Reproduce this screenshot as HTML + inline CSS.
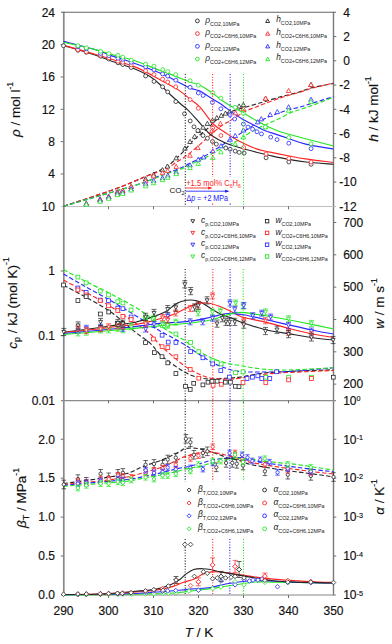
<!DOCTYPE html>
<html><head><meta charset="utf-8"><style>
html,body{margin:0;padding:0;background:#fff;}
svg{display:block;}
text{font-family:"Liberation Sans",sans-serif;}
.tk text,text.tk{stroke:#111;stroke-width:0.16;}
</style></head><body>
<svg width="392" height="644" viewBox="0 0 392 644">
<rect width="392" height="644" fill="#fff"/>
<line x1="63.80" y1="11.70" x2="63.80" y2="595.50" stroke="#888" stroke-width="1.7" />
<line x1="333.50" y1="11.70" x2="333.50" y2="595.50" stroke="#7a7a7a" stroke-width="1.4" />
<line x1="61.00" y1="12.30" x2="336.00" y2="12.30" stroke="#666" stroke-width="1.1" />
<line x1="61.00" y1="206.50" x2="336.00" y2="206.50" stroke="#b8b8b8" stroke-width="0.9" />
<line x1="61.00" y1="400.70" x2="336.00" y2="400.70" stroke="#8c8c8c" stroke-width="1.2" />
<line x1="61.00" y1="595.00" x2="336.00" y2="595.00" stroke="#888" stroke-width="1.1" />
<line x1="108.50" y1="206.30" x2="108.50" y2="209.30" stroke="#707070" stroke-width="1.0" />
<line x1="108.50" y1="400.30" x2="108.50" y2="403.30" stroke="#707070" stroke-width="1.0" />
<line x1="108.50" y1="595.00" x2="108.50" y2="598.00" stroke="#707070" stroke-width="1.0" />
<line x1="153.50" y1="206.30" x2="153.50" y2="209.30" stroke="#707070" stroke-width="1.0" />
<line x1="153.50" y1="400.30" x2="153.50" y2="403.30" stroke="#707070" stroke-width="1.0" />
<line x1="153.50" y1="595.00" x2="153.50" y2="598.00" stroke="#707070" stroke-width="1.0" />
<line x1="198.50" y1="206.30" x2="198.50" y2="209.30" stroke="#707070" stroke-width="1.0" />
<line x1="198.50" y1="400.30" x2="198.50" y2="403.30" stroke="#707070" stroke-width="1.0" />
<line x1="198.50" y1="595.00" x2="198.50" y2="598.00" stroke="#707070" stroke-width="1.0" />
<line x1="243.50" y1="206.30" x2="243.50" y2="209.30" stroke="#707070" stroke-width="1.0" />
<line x1="243.50" y1="400.30" x2="243.50" y2="403.30" stroke="#707070" stroke-width="1.0" />
<line x1="243.50" y1="595.00" x2="243.50" y2="598.00" stroke="#707070" stroke-width="1.0" />
<line x1="288.50" y1="206.30" x2="288.50" y2="209.30" stroke="#707070" stroke-width="1.0" />
<line x1="288.50" y1="400.30" x2="288.50" y2="403.30" stroke="#707070" stroke-width="1.0" />
<line x1="288.50" y1="595.00" x2="288.50" y2="598.00" stroke="#707070" stroke-width="1.0" />
<line x1="60.70" y1="173.97" x2="63.50" y2="173.97" stroke="#707070" stroke-width="1.0" />
<line x1="60.70" y1="141.63" x2="63.50" y2="141.63" stroke="#707070" stroke-width="1.0" />
<line x1="60.70" y1="109.30" x2="63.50" y2="109.30" stroke="#707070" stroke-width="1.0" />
<line x1="60.70" y1="76.97" x2="63.50" y2="76.97" stroke="#707070" stroke-width="1.0" />
<line x1="60.70" y1="44.63" x2="63.50" y2="44.63" stroke="#707070" stroke-width="1.0" />
<line x1="333.50" y1="182.05" x2="336.30" y2="182.05" stroke="#707070" stroke-width="1.0" />
<line x1="333.50" y1="157.80" x2="336.30" y2="157.80" stroke="#707070" stroke-width="1.0" />
<line x1="333.50" y1="133.55" x2="336.30" y2="133.55" stroke="#707070" stroke-width="1.0" />
<line x1="333.50" y1="109.30" x2="336.30" y2="109.30" stroke="#707070" stroke-width="1.0" />
<line x1="333.50" y1="85.05" x2="336.30" y2="85.05" stroke="#707070" stroke-width="1.0" />
<line x1="333.50" y1="60.80" x2="336.30" y2="60.80" stroke="#707070" stroke-width="1.0" />
<line x1="333.50" y1="36.55" x2="336.30" y2="36.55" stroke="#707070" stroke-width="1.0" />
<line x1="60.70" y1="335.63" x2="63.50" y2="335.63" stroke="#707070" stroke-width="1.0" />
<line x1="60.70" y1="270.97" x2="63.50" y2="270.97" stroke="#707070" stroke-width="1.0" />
<line x1="333.50" y1="384.13" x2="336.30" y2="384.13" stroke="#707070" stroke-width="1.0" />
<line x1="333.50" y1="351.80" x2="336.30" y2="351.80" stroke="#707070" stroke-width="1.0" />
<line x1="333.50" y1="319.47" x2="336.30" y2="319.47" stroke="#707070" stroke-width="1.0" />
<line x1="333.50" y1="287.13" x2="336.30" y2="287.13" stroke="#707070" stroke-width="1.0" />
<line x1="333.50" y1="254.80" x2="336.30" y2="254.80" stroke="#707070" stroke-width="1.0" />
<line x1="333.50" y1="222.47" x2="336.30" y2="222.47" stroke="#707070" stroke-width="1.0" />
<line x1="60.70" y1="556.06" x2="63.50" y2="556.06" stroke="#707070" stroke-width="1.0" />
<line x1="60.70" y1="517.12" x2="63.50" y2="517.12" stroke="#707070" stroke-width="1.0" />
<line x1="60.70" y1="478.18" x2="63.50" y2="478.18" stroke="#707070" stroke-width="1.0" />
<line x1="60.70" y1="439.24" x2="63.50" y2="439.24" stroke="#707070" stroke-width="1.0" />
<line x1="333.50" y1="439.24" x2="336.30" y2="439.24" stroke="#707070" stroke-width="1.0" />
<line x1="333.50" y1="478.18" x2="336.30" y2="478.18" stroke="#707070" stroke-width="1.0" />
<line x1="333.50" y1="517.12" x2="336.30" y2="517.12" stroke="#707070" stroke-width="1.0" />
<line x1="333.50" y1="556.06" x2="336.30" y2="556.06" stroke="#707070" stroke-width="1.0" />
<text class="tk" x="55.00" y="16.60" font-size="12" text-anchor="end" fill="#111" >24</text>
<text class="tk" x="55.00" y="178.27" font-size="12" text-anchor="end" fill="#111" >4</text>
<text class="tk" x="55.00" y="145.93" font-size="12" text-anchor="end" fill="#111" >8</text>
<text class="tk" x="55.00" y="113.60" font-size="12" text-anchor="end" fill="#111" >12</text>
<text class="tk" x="55.00" y="81.27" font-size="12" text-anchor="end" fill="#111" >16</text>
<text class="tk" x="55.00" y="48.93" font-size="12" text-anchor="end" fill="#111" >20</text>
<text class="tk" x="55.00" y="210.60" font-size="12" text-anchor="end" fill="#111" >10</text>
<text class="tk" x="55.00" y="275.27" font-size="12" text-anchor="end" fill="#111" >1</text>
<text class="tk" x="55.00" y="339.93" font-size="12" text-anchor="end" fill="#111" >0.1</text>
<text class="tk" x="55.00" y="404.60" font-size="12" text-anchor="end" fill="#111" >0.01</text>
<text class="tk" x="55.00" y="443.54" font-size="12" text-anchor="end" fill="#111" >2.0</text>
<text class="tk" x="55.00" y="482.48" font-size="12" text-anchor="end" fill="#111" >1.5</text>
<text class="tk" x="55.00" y="521.42" font-size="12" text-anchor="end" fill="#111" >1.0</text>
<text class="tk" x="55.00" y="560.36" font-size="12" text-anchor="end" fill="#111" >0.5</text>
<text class="tk" x="55.00" y="599.30" font-size="12" text-anchor="end" fill="#111" >0.0</text>
<text class="tk" x="343.20" y="16.60" font-size="12" text-anchor="start" fill="#111" >4</text>
<text class="tk" x="343.20" y="40.85" font-size="12" text-anchor="start" fill="#111" >2</text>
<text class="tk" x="343.20" y="65.10" font-size="12" text-anchor="start" fill="#111" >0</text>
<text class="tk" x="339.30" y="89.35" font-size="12" text-anchor="start" fill="#111" >-2</text>
<text class="tk" x="339.30" y="113.60" font-size="12" text-anchor="start" fill="#111" >-4</text>
<text class="tk" x="339.30" y="137.85" font-size="12" text-anchor="start" fill="#111" >-6</text>
<text class="tk" x="339.30" y="162.10" font-size="12" text-anchor="start" fill="#111" >-8</text>
<text class="tk" x="339.30" y="186.35" font-size="12" text-anchor="start" fill="#111" >-10</text>
<text class="tk" x="339.30" y="210.60" font-size="12" text-anchor="start" fill="#111" >-12</text>
<text class="tk" x="343.20" y="226.77" font-size="12" text-anchor="start" fill="#111" >700</text>
<text class="tk" x="343.20" y="259.10" font-size="12" text-anchor="start" fill="#111" >600</text>
<text class="tk" x="343.20" y="291.43" font-size="12" text-anchor="start" fill="#111" >500</text>
<text class="tk" x="343.20" y="323.77" font-size="12" text-anchor="start" fill="#111" >400</text>
<text class="tk" x="343.20" y="356.10" font-size="12" text-anchor="start" fill="#111" >300</text>
<text class="tk" x="343.20" y="388.43" font-size="12" text-anchor="start" fill="#111" >200</text>
<text class="tk" x="343.2" y="404.60" font-size="12" fill="#111">10<tspan font-size="7.2" dy="-3.8">0</tspan></text>
<text class="tk" x="343.2" y="443.54" font-size="12" fill="#111">10<tspan font-size="7.2" dy="-3.8">-1</tspan></text>
<text class="tk" x="343.2" y="482.48" font-size="12" fill="#111">10<tspan font-size="7.2" dy="-3.8">-2</tspan></text>
<text class="tk" x="343.2" y="521.42" font-size="12" fill="#111">10<tspan font-size="7.2" dy="-3.8">-3</tspan></text>
<text class="tk" x="343.2" y="560.36" font-size="12" fill="#111">10<tspan font-size="7.2" dy="-3.8">-4</tspan></text>
<text class="tk" x="343.2" y="599.30" font-size="12" fill="#111">10<tspan font-size="7.2" dy="-3.8">-5</tspan></text>
<text class="tk" x="63.50" y="615.00" font-size="12" text-anchor="middle" fill="#111" >290</text>
<text class="tk" x="108.50" y="615.00" font-size="12" text-anchor="middle" fill="#111" >300</text>
<text class="tk" x="153.50" y="615.00" font-size="12" text-anchor="middle" fill="#111" >310</text>
<text class="tk" x="198.50" y="615.00" font-size="12" text-anchor="middle" fill="#111" >320</text>
<text class="tk" x="243.50" y="615.00" font-size="12" text-anchor="middle" fill="#111" >330</text>
<text class="tk" x="288.50" y="615.00" font-size="12" text-anchor="middle" fill="#111" >340</text>
<text class="tk" x="333.50" y="615.00" font-size="12" text-anchor="middle" fill="#111" >350</text>
<text class="tk" x="199" y="637.3" font-size="13.5" text-anchor="middle" fill="#111"><tspan font-style="italic">T</tspan> / K</text>
<text class="tk" transform="translate(20.4,109.5) rotate(-90)" font-size="13.5" text-anchor="middle" fill="#111"><tspan font-style="italic">ρ</tspan> / mol l<tspan font-size="8.5" dy="-7.5">-1</tspan></text>
<text class="tk" transform="translate(16.5,303) rotate(-90)" font-size="13.5" text-anchor="middle" fill="#111"><tspan font-style="italic">c</tspan><tspan font-size="9" dy="3">p</tspan><tspan dy="-3"> / kJ (mol K)</tspan><tspan font-size="8.5" dy="-7.5">-1</tspan></text>
<text class="tk" transform="translate(26.2,498) rotate(-90)" font-size="13.5" text-anchor="middle" fill="#111"><tspan font-style="italic">β</tspan><tspan font-size="9" dy="3">T</tspan><tspan dy="-3"> / MPa</tspan><tspan font-size="8.5" dy="-7.5">-1</tspan></text>
<text class="tk" transform="translate(378.4,109.2) rotate(-90)" font-size="13.5" text-anchor="middle" fill="#111"><tspan font-style="italic">h</tspan> / kJ mol<tspan font-size="8.5" dy="-7.5">-1</tspan></text>
<text class="tk" transform="translate(384,303.5) rotate(-90)" font-size="13.5" text-anchor="middle" fill="#111"><tspan font-style="italic">w</tspan> / m s<tspan font-size="8.5" dy="-7.5">-1</tspan></text>
<text class="tk" transform="translate(384.2,497) rotate(-90)" font-size="13.5" text-anchor="middle" fill="#111"><tspan font-style="italic">α</tspan> / K<tspan font-size="8.5" dy="-7.5">-1</tspan></text>
<path d="M63.50,206.30 C72.08,203.42 101.42,193.92 115.00,189.00 C128.58,184.08 136.67,180.35 145.00,176.80 C153.33,173.25 159.97,170.58 165.00,167.70 C170.03,164.82 171.80,162.57 175.20,159.50 C178.60,156.43 182.47,152.42 185.40,149.30 C188.33,146.18 190.30,143.28 192.80,140.80 C195.30,138.32 197.85,136.52 200.40,134.40 C202.95,132.28 205.67,130.33 208.10,128.10 C210.53,125.87 212.18,123.35 215.00,121.00 C217.82,118.65 221.63,115.78 225.00,114.00 C228.37,112.22 231.80,111.43 235.20,110.30 C238.60,109.17 242.00,108.22 245.40,107.20 C248.80,106.18 252.33,105.15 255.60,104.20 C258.87,103.25 260.87,102.73 265.00,101.50 C269.13,100.27 276.13,98.00 280.40,96.80 C284.67,95.60 287.33,95.15 290.60,94.30 C293.87,93.45 296.27,92.83 300.00,91.70 C303.73,90.57 307.42,88.87 313.00,87.50 C318.58,86.13 330.08,84.17 333.50,83.50" fill="none" stroke="#262626" stroke-width="1.15" stroke-dasharray="4.5,2.3"/>
<path d="M63.50,206.30 C72.08,203.42 101.42,193.92 115.00,189.00 C128.58,184.08 136.67,180.10 145.00,176.80 C153.33,173.50 159.97,171.48 165.00,169.20 C170.03,166.92 171.80,165.23 175.20,163.10 C178.60,160.97 182.00,158.87 185.40,156.40 C188.80,153.93 192.25,151.12 195.60,148.30 C198.95,145.48 202.57,142.13 205.50,139.50 C208.43,136.87 210.45,134.83 213.20,132.50 C215.95,130.17 219.20,127.42 222.00,125.50 C224.80,123.58 227.80,122.33 230.00,121.00 C232.20,119.67 232.63,119.12 235.20,117.50 C237.77,115.88 242.00,113.02 245.40,111.30 C248.80,109.58 252.33,108.50 255.60,107.20 C258.87,105.90 260.87,105.05 265.00,103.50 C269.13,101.95 276.13,99.35 280.40,97.90 C284.67,96.45 287.33,95.75 290.60,94.80 C293.87,93.85 296.27,93.33 300.00,92.20 C303.73,91.07 307.42,89.53 313.00,88.00 C318.58,86.47 330.08,83.83 333.50,83.00" fill="none" stroke="#ff2424" stroke-width="1.15" stroke-dasharray="4.5,2.3"/>
<path d="M63.50,206.30 C72.08,203.80 101.42,195.33 115.00,191.30 C128.58,187.27 136.67,185.10 145.00,182.10 C153.33,179.10 159.97,175.28 165.00,173.30 C170.03,171.32 171.80,171.48 175.20,170.20 C178.60,168.92 182.00,167.22 185.40,165.60 C188.80,163.98 192.33,162.12 195.60,160.50 C198.87,158.88 202.57,157.22 205.00,155.90 C207.43,154.58 207.63,154.18 210.20,152.60 C212.77,151.02 217.00,148.62 220.40,146.40 C223.80,144.18 227.67,141.20 230.60,139.30 C233.53,137.40 234.63,137.05 238.00,135.00 C241.37,132.95 247.13,129.33 250.80,127.00 C254.47,124.67 256.77,122.80 260.00,121.00 C263.23,119.20 266.80,117.62 270.20,116.20 C273.60,114.78 277.00,113.65 280.40,112.50 C283.80,111.35 287.33,110.22 290.60,109.30 C293.87,108.38 296.27,108.05 300.00,107.00 C303.73,105.95 307.42,104.73 313.00,103.00 C318.58,101.27 330.08,97.67 333.50,96.60" fill="none" stroke="#2828ff" stroke-width="1.15" stroke-dasharray="4.5,2.3"/>
<path d="M63.50,206.30 C72.08,203.80 101.42,195.33 115.00,191.30 C128.58,187.27 136.67,184.93 145.00,182.10 C153.33,179.27 159.97,176.12 165.00,174.30 C170.03,172.48 171.80,172.40 175.20,171.20 C178.60,170.00 182.00,168.63 185.40,167.10 C188.80,165.57 192.33,163.52 195.60,162.00 C198.87,160.48 202.57,159.23 205.00,158.00 C207.43,156.77 207.63,156.10 210.20,154.60 C212.77,153.10 217.00,150.78 220.40,149.00 C223.80,147.22 227.33,145.52 230.60,143.90 C233.87,142.28 236.63,141.27 240.00,139.30 C243.37,137.33 246.88,134.37 250.80,132.10 C254.72,129.83 259.25,127.72 263.50,125.70 C267.75,123.68 271.78,122.17 276.30,120.00 C280.82,117.83 286.65,114.43 290.60,112.70 C294.55,110.97 296.27,110.87 300.00,109.60 C303.73,108.33 307.42,107.15 313.00,105.10 C318.58,103.05 330.08,98.60 333.50,97.30" fill="none" stroke="#22e622" stroke-width="1.15" stroke-dasharray="4.5,2.3"/>
<path d="M63.50,45.50 C68.75,47.08 86.42,52.20 95.00,55.00 C103.58,57.80 108.33,59.97 115.00,62.30 C121.67,64.63 129.17,66.63 135.00,69.00 C140.83,71.37 145.83,73.92 150.00,76.50 C154.17,79.08 156.63,81.50 160.00,84.50 C163.37,87.50 166.80,91.30 170.20,94.50 C173.60,97.70 177.48,101.15 180.40,103.70 C183.32,106.25 185.22,107.43 187.70,109.80 C190.18,112.17 192.75,115.07 195.30,117.90 C197.85,120.73 200.48,124.03 203.00,126.80 C205.52,129.57 207.85,132.38 210.40,134.50 C212.95,136.62 215.37,137.92 218.30,139.50 C221.23,141.08 224.38,142.62 228.00,144.00 C231.62,145.38 235.27,146.43 240.00,147.80 C244.73,149.17 251.40,150.92 256.40,152.20 C261.40,153.48 264.75,154.32 270.00,155.50 C275.25,156.68 281.95,158.22 287.90,159.30 C293.85,160.38 298.10,161.17 305.70,162.00 C313.30,162.83 328.87,163.92 333.50,164.30" fill="none" stroke="#262626" stroke-width="1.15"/>
<path d="M63.50,45.20 C68.75,46.70 83.08,50.58 95.00,54.20 C106.92,57.82 124.17,62.65 135.00,66.90 C145.83,71.15 154.13,76.63 160.00,79.70 C165.87,82.77 166.80,83.35 170.20,85.30 C173.60,87.25 177.00,89.02 180.40,91.40 C183.80,93.78 187.33,96.97 190.60,99.60 C193.87,102.23 196.22,103.13 200.00,107.20 C203.78,111.27 209.05,119.75 213.30,124.00 C217.55,128.25 221.38,129.95 225.50,132.70 C229.62,135.45 232.85,137.80 238.00,140.50 C243.15,143.20 251.07,146.97 256.40,148.90 C261.73,150.83 264.75,150.97 270.00,152.10 C275.25,153.23 281.95,154.57 287.90,155.70 C293.85,156.83 298.10,157.77 305.70,158.90 C313.30,160.03 328.87,161.90 333.50,162.50" fill="none" stroke="#ff2424" stroke-width="1.15"/>
<path d="M63.50,41.40 C68.75,42.75 86.42,46.92 95.00,49.50 C103.58,52.08 108.33,54.57 115.00,56.90 C121.67,59.23 127.50,60.82 135.00,63.50 C142.50,66.18 154.13,70.63 160.00,73.00 C165.87,75.37 166.80,75.98 170.20,77.70 C173.60,79.42 177.00,81.52 180.40,83.30 C183.80,85.08 187.33,87.12 190.60,88.40 C193.87,89.68 196.73,89.47 200.00,91.00 C203.27,92.53 206.80,95.48 210.20,97.60 C213.60,99.72 216.62,101.15 220.40,103.70 C224.18,106.25 229.33,110.40 232.90,112.90 C236.47,115.40 238.82,116.93 241.80,118.70 C244.78,120.47 247.18,121.62 250.80,123.50 C254.42,125.38 259.25,128.18 263.50,130.00 C267.75,131.82 272.22,133.02 276.30,134.40 C280.38,135.78 283.10,136.68 288.00,138.30 C292.90,139.92 298.12,142.32 305.70,144.10 C313.28,145.88 328.87,148.18 333.50,149.00" fill="none" stroke="#2828ff" stroke-width="1.15"/>
<path d="M63.50,42.30 C68.75,43.52 86.42,47.42 95.00,49.60 C103.58,51.78 108.33,53.53 115.00,55.40 C121.67,57.27 127.50,58.28 135.00,60.80 C142.50,63.32 154.13,68.28 160.00,70.50 C165.87,72.72 166.80,72.82 170.20,74.10 C173.60,75.38 177.00,76.85 180.40,78.20 C183.80,79.55 187.33,81.02 190.60,82.20 C193.87,83.38 196.40,83.50 200.00,85.30 C203.60,87.10 208.22,90.27 212.20,93.00 C216.18,95.73 220.45,99.35 223.90,101.70 C227.35,104.05 229.92,105.38 232.90,107.10 C235.88,108.82 238.82,110.28 241.80,112.00 C244.78,113.72 247.18,115.33 250.80,117.40 C254.42,119.47 259.25,122.27 263.50,124.40 C267.75,126.53 272.22,128.60 276.30,130.20 C280.38,131.80 283.10,132.57 288.00,134.00 C292.90,135.43 298.12,136.80 305.70,138.80 C313.28,140.80 328.87,144.80 333.50,146.00" fill="none" stroke="#22e622" stroke-width="1.15"/>
<path d="M86.30,201.30 L88.60,205.44 L84.00,205.44 Z" fill="#fff" stroke="#262626" stroke-width="0.8"/>
<path d="M100.10,197.20 L102.40,201.34 L97.80,201.34 Z" fill="#fff" stroke="#262626" stroke-width="0.8"/>
<path d="M108.70,194.70 L111.00,198.84 L106.40,198.84 Z" fill="#fff" stroke="#262626" stroke-width="0.8"/>
<path d="M117.30,189.80 L119.60,193.94 L115.00,193.94 Z" fill="#fff" stroke="#262626" stroke-width="0.8"/>
<path d="M122.70,188.20 L125.00,192.34 L120.40,192.34 Z" fill="#fff" stroke="#262626" stroke-width="0.8"/>
<path d="M131.10,184.40 L133.40,188.54 L128.80,188.54 Z" fill="#fff" stroke="#262626" stroke-width="0.8"/>
<path d="M145.60,176.70 L147.90,180.84 L143.30,180.84 Z" fill="#fff" stroke="#262626" stroke-width="0.8"/>
<path d="M153.60,172.20 L155.90,176.34 L151.30,176.34 Z" fill="#fff" stroke="#262626" stroke-width="0.8"/>
<path d="M162.50,167.60 L164.80,171.74 L160.20,171.74 Z" fill="#fff" stroke="#262626" stroke-width="0.8"/>
<path d="M167.40,164.00 L169.70,168.14 L165.10,168.14 Z" fill="#fff" stroke="#262626" stroke-width="0.8"/>
<path d="M176.20,155.70 L178.50,159.84 L173.90,159.84 Z" fill="#fff" stroke="#262626" stroke-width="0.8"/>
<path d="M184.90,146.00 L187.20,150.14 L182.60,150.14 Z" fill="#fff" stroke="#262626" stroke-width="0.8"/>
<path d="M190.00,139.30 L192.30,143.44 L187.70,143.44 Z" fill="#fff" stroke="#262626" stroke-width="0.8"/>
<path d="M194.60,134.20 L196.90,138.34 L192.30,138.34 Z" fill="#fff" stroke="#262626" stroke-width="0.8"/>
<path d="M198.50,128.30 L200.80,132.44 L196.20,132.44 Z" fill="#fff" stroke="#262626" stroke-width="0.8"/>
<path d="M203.00,125.10 L205.30,129.24 L200.70,129.24 Z" fill="#fff" stroke="#262626" stroke-width="0.8"/>
<path d="M207.40,121.30 L209.70,125.44 L205.10,125.44 Z" fill="#fff" stroke="#262626" stroke-width="0.8"/>
<path d="M212.50,118.10 L214.80,122.24 L210.20,122.24 Z" fill="#fff" stroke="#262626" stroke-width="0.8"/>
<path d="M216.80,115.50 L219.10,119.64 L214.50,119.64 Z" fill="#fff" stroke="#262626" stroke-width="0.8"/>
<path d="M221.30,113.20 L223.60,117.34 L219.00,117.34 Z" fill="#fff" stroke="#262626" stroke-width="0.8"/>
<path d="M225.50,111.00 L227.80,115.14 L223.20,115.14 Z" fill="#fff" stroke="#262626" stroke-width="0.8"/>
<path d="M229.70,109.70 L232.00,113.84 L227.40,113.84 Z" fill="#fff" stroke="#262626" stroke-width="0.8"/>
<path d="M239.10,103.90 L241.40,108.04 L236.80,108.04 Z" fill="#fff" stroke="#262626" stroke-width="0.8"/>
<path d="M243.40,102.40 L245.70,106.54 L241.10,106.54 Z" fill="#fff" stroke="#262626" stroke-width="0.8"/>
<path d="M265.60,96.10 L267.90,100.24 L263.30,100.24 Z" fill="#fff" stroke="#262626" stroke-width="0.8"/>
<path d="M311.00,82.40 L313.30,86.54 L308.70,86.54 Z" fill="#fff" stroke="#262626" stroke-width="0.8"/>
<path d="M86.30,201.30 L88.60,205.44 L84.00,205.44 Z" fill="#fff" stroke="#ff2424" stroke-width="0.8"/>
<path d="M100.10,196.70 L102.40,200.84 L97.80,200.84 Z" fill="#fff" stroke="#ff2424" stroke-width="0.8"/>
<path d="M108.70,194.20 L111.00,198.34 L106.40,198.34 Z" fill="#fff" stroke="#ff2424" stroke-width="0.8"/>
<path d="M117.30,189.80 L119.60,193.94 L115.00,193.94 Z" fill="#fff" stroke="#ff2424" stroke-width="0.8"/>
<path d="M122.70,188.20 L125.00,192.34 L120.40,192.34 Z" fill="#fff" stroke="#ff2424" stroke-width="0.8"/>
<path d="M131.10,184.40 L133.40,188.54 L128.80,188.54 Z" fill="#fff" stroke="#ff2424" stroke-width="0.8"/>
<path d="M145.60,178.70 L147.90,182.84 L143.30,182.84 Z" fill="#fff" stroke="#ff2424" stroke-width="0.8"/>
<path d="M153.60,173.70 L155.90,177.84 L151.30,177.84 Z" fill="#fff" stroke="#ff2424" stroke-width="0.8"/>
<path d="M162.50,170.60 L164.80,174.74 L160.20,174.74 Z" fill="#fff" stroke="#ff2424" stroke-width="0.8"/>
<path d="M167.60,168.40 L169.90,172.54 L165.30,172.54 Z" fill="#fff" stroke="#ff2424" stroke-width="0.8"/>
<path d="M176.20,164.30 L178.50,168.44 L173.90,168.44 Z" fill="#fff" stroke="#ff2424" stroke-width="0.8"/>
<path d="M190.00,153.10 L192.30,157.24 L187.70,157.24 Z" fill="#fff" stroke="#ff2424" stroke-width="0.8"/>
<path d="M197.90,145.50 L200.20,149.64 L195.60,149.64 Z" fill="#fff" stroke="#ff2424" stroke-width="0.8"/>
<path d="M211.90,128.30 L214.20,132.44 L209.60,132.44 Z" fill="#fff" stroke="#ff2424" stroke-width="0.8"/>
<path d="M220.40,121.30 L222.70,125.44 L218.10,125.44 Z" fill="#fff" stroke="#ff2424" stroke-width="0.8"/>
<path d="M235.50,110.60 L237.80,114.74 L233.20,114.74 Z" fill="#fff" stroke="#ff2424" stroke-width="0.8"/>
<path d="M243.40,106.50 L245.70,110.64 L241.10,110.64 Z" fill="#fff" stroke="#ff2424" stroke-width="0.8"/>
<path d="M265.60,96.10 L267.90,100.24 L263.30,100.24 Z" fill="#fff" stroke="#ff2424" stroke-width="0.8"/>
<path d="M288.60,88.40 L290.90,92.54 L286.30,92.54 Z" fill="#fff" stroke="#ff2424" stroke-width="0.8"/>
<path d="M311.00,82.40 L313.30,86.54 L308.70,86.54 Z" fill="#fff" stroke="#ff2424" stroke-width="0.8"/>
<path d="M86.30,201.70 L88.60,205.84 L84.00,205.84 Z" fill="#fff" stroke="#2828ff" stroke-width="0.8"/>
<path d="M100.10,197.70 L102.40,201.84 L97.80,201.84 Z" fill="#fff" stroke="#2828ff" stroke-width="0.8"/>
<path d="M108.70,194.90 L111.00,199.04 L106.40,199.04 Z" fill="#fff" stroke="#2828ff" stroke-width="0.8"/>
<path d="M117.30,191.30 L119.60,195.44 L115.00,195.44 Z" fill="#fff" stroke="#2828ff" stroke-width="0.8"/>
<path d="M122.70,190.20 L125.00,194.34 L120.40,194.34 Z" fill="#fff" stroke="#2828ff" stroke-width="0.8"/>
<path d="M131.10,186.70 L133.40,190.84 L128.80,190.84 Z" fill="#fff" stroke="#2828ff" stroke-width="0.8"/>
<path d="M145.60,181.30 L147.90,185.44 L143.30,185.44 Z" fill="#fff" stroke="#2828ff" stroke-width="0.8"/>
<path d="M153.60,178.30 L155.90,182.44 L151.30,182.44 Z" fill="#fff" stroke="#2828ff" stroke-width="0.8"/>
<path d="M162.50,175.70 L164.80,179.84 L160.20,179.84 Z" fill="#fff" stroke="#2828ff" stroke-width="0.8"/>
<path d="M167.80,173.20 L170.10,177.34 L165.50,177.34 Z" fill="#fff" stroke="#2828ff" stroke-width="0.8"/>
<path d="M176.20,169.90 L178.50,174.04 L173.90,174.04 Z" fill="#fff" stroke="#2828ff" stroke-width="0.8"/>
<path d="M190.00,162.80 L192.30,166.94 L187.70,166.94 Z" fill="#fff" stroke="#2828ff" stroke-width="0.8"/>
<path d="M198.20,157.20 L200.50,161.34 L195.90,161.34 Z" fill="#fff" stroke="#2828ff" stroke-width="0.8"/>
<path d="M203.60,154.80 L205.90,158.94 L201.30,158.94 Z" fill="#fff" stroke="#2828ff" stroke-width="0.8"/>
<path d="M212.80,148.70 L215.10,152.84 L210.50,152.84 Z" fill="#fff" stroke="#2828ff" stroke-width="0.8"/>
<path d="M220.90,143.60 L223.20,147.74 L218.60,147.74 Z" fill="#fff" stroke="#2828ff" stroke-width="0.8"/>
<path d="M230.10,137.00 L232.40,141.14 L227.80,141.14 Z" fill="#fff" stroke="#2828ff" stroke-width="0.8"/>
<path d="M235.20,133.40 L237.50,137.54 L232.90,137.54 Z" fill="#fff" stroke="#2828ff" stroke-width="0.8"/>
<path d="M243.40,127.90 L245.70,132.04 L241.10,132.04 Z" fill="#fff" stroke="#2828ff" stroke-width="0.8"/>
<path d="M257.70,119.70 L260.00,123.84 L255.40,123.84 Z" fill="#fff" stroke="#2828ff" stroke-width="0.8"/>
<path d="M261.20,116.70 L263.50,120.84 L258.90,120.84 Z" fill="#fff" stroke="#2828ff" stroke-width="0.8"/>
<path d="M270.20,112.40 L272.50,116.54 L267.90,116.54 Z" fill="#fff" stroke="#2828ff" stroke-width="0.8"/>
<path d="M277.30,109.50 L279.60,113.64 L275.00,113.64 Z" fill="#fff" stroke="#2828ff" stroke-width="0.8"/>
<path d="M288.60,104.70 L290.90,108.84 L286.30,108.84 Z" fill="#fff" stroke="#2828ff" stroke-width="0.8"/>
<path d="M311.00,97.20 L313.30,101.34 L308.70,101.34 Z" fill="#fff" stroke="#2828ff" stroke-width="0.8"/>
<path d="M86.30,202.10 L88.60,206.24 L84.00,206.24 Z" fill="#fff" stroke="#22e622" stroke-width="0.8"/>
<path d="M100.10,199.20 L102.40,203.34 L97.80,203.34 Z" fill="#fff" stroke="#22e622" stroke-width="0.8"/>
<path d="M108.70,196.20 L111.00,200.34 L106.40,200.34 Z" fill="#fff" stroke="#22e622" stroke-width="0.8"/>
<path d="M117.30,192.50 L119.60,196.64 L115.00,196.64 Z" fill="#fff" stroke="#22e622" stroke-width="0.8"/>
<path d="M122.70,191.30 L125.00,195.44 L120.40,195.44 Z" fill="#fff" stroke="#22e622" stroke-width="0.8"/>
<path d="M131.10,187.90 L133.40,192.04 L128.80,192.04 Z" fill="#fff" stroke="#22e622" stroke-width="0.8"/>
<path d="M145.60,183.70 L147.90,187.84 L143.30,187.84 Z" fill="#fff" stroke="#22e622" stroke-width="0.8"/>
<path d="M153.60,180.60 L155.90,184.74 L151.30,184.74 Z" fill="#fff" stroke="#22e622" stroke-width="0.8"/>
<path d="M162.50,177.50 L164.80,181.64 L160.20,181.64 Z" fill="#fff" stroke="#22e622" stroke-width="0.8"/>
<path d="M167.80,175.20 L170.10,179.34 L165.50,179.34 Z" fill="#fff" stroke="#22e622" stroke-width="0.8"/>
<path d="M176.20,171.50 L178.50,175.64 L173.90,175.64 Z" fill="#fff" stroke="#22e622" stroke-width="0.8"/>
<path d="M190.00,165.40 L192.30,169.54 L187.70,169.54 Z" fill="#fff" stroke="#22e622" stroke-width="0.8"/>
<path d="M198.20,161.30 L200.50,165.44 L195.90,165.44 Z" fill="#fff" stroke="#22e622" stroke-width="0.8"/>
<path d="M212.80,155.40 L215.10,159.54 L210.50,159.54 Z" fill="#fff" stroke="#22e622" stroke-width="0.8"/>
<path d="M220.90,149.70 L223.20,153.84 L218.60,153.84 Z" fill="#fff" stroke="#22e622" stroke-width="0.8"/>
<path d="M235.20,141.60 L237.50,145.74 L232.90,145.74 Z" fill="#fff" stroke="#22e622" stroke-width="0.8"/>
<path d="M243.40,134.70 L245.70,138.84 L241.10,138.84 Z" fill="#fff" stroke="#22e622" stroke-width="0.8"/>
<path d="M265.40,124.70 L267.70,128.84 L263.10,128.84 Z" fill="#fff" stroke="#22e622" stroke-width="0.8"/>
<path d="M288.60,108.10 L290.90,112.24 L286.30,112.24 Z" fill="#fff" stroke="#22e622" stroke-width="0.8"/>
<path d="M311.00,99.30 L313.30,103.44 L308.70,103.44 Z" fill="#fff" stroke="#22e622" stroke-width="0.8"/>
<circle cx="63.50" cy="45.70" r="1.95" fill="#fff" stroke="#262626" stroke-width="0.8"/>
<circle cx="77.90" cy="50.30" r="1.95" fill="#fff" stroke="#262626" stroke-width="0.8"/>
<circle cx="86.30" cy="52.30" r="1.95" fill="#fff" stroke="#262626" stroke-width="0.8"/>
<circle cx="100.60" cy="56.20" r="1.95" fill="#fff" stroke="#262626" stroke-width="0.8"/>
<circle cx="108.80" cy="59.00" r="1.95" fill="#fff" stroke="#262626" stroke-width="0.8"/>
<circle cx="118.00" cy="62.80" r="1.95" fill="#fff" stroke="#262626" stroke-width="0.8"/>
<circle cx="122.80" cy="64.50" r="1.95" fill="#fff" stroke="#262626" stroke-width="0.8"/>
<circle cx="131.20" cy="67.50" r="1.95" fill="#fff" stroke="#262626" stroke-width="0.8"/>
<circle cx="145.60" cy="76.00" r="1.95" fill="#fff" stroke="#262626" stroke-width="0.8"/>
<circle cx="154.00" cy="81.40" r="1.95" fill="#fff" stroke="#262626" stroke-width="0.8"/>
<circle cx="162.60" cy="86.80" r="1.95" fill="#fff" stroke="#262626" stroke-width="0.8"/>
<circle cx="167.70" cy="91.90" r="1.95" fill="#fff" stroke="#262626" stroke-width="0.8"/>
<circle cx="175.80" cy="101.60" r="1.95" fill="#fff" stroke="#262626" stroke-width="0.8"/>
<circle cx="184.50" cy="113.80" r="1.95" fill="#fff" stroke="#262626" stroke-width="0.8"/>
<circle cx="190.20" cy="121.00" r="1.95" fill="#fff" stroke="#262626" stroke-width="0.8"/>
<circle cx="194.00" cy="126.80" r="1.95" fill="#fff" stroke="#262626" stroke-width="0.8"/>
<circle cx="197.90" cy="130.60" r="1.95" fill="#fff" stroke="#262626" stroke-width="0.8"/>
<circle cx="203.00" cy="135.50" r="1.95" fill="#fff" stroke="#262626" stroke-width="0.8"/>
<circle cx="207.40" cy="138.30" r="1.95" fill="#fff" stroke="#262626" stroke-width="0.8"/>
<circle cx="212.50" cy="141.50" r="1.95" fill="#fff" stroke="#262626" stroke-width="0.8"/>
<circle cx="216.30" cy="144.10" r="1.95" fill="#fff" stroke="#262626" stroke-width="0.8"/>
<circle cx="225.80" cy="148.00" r="1.95" fill="#fff" stroke="#262626" stroke-width="0.8"/>
<circle cx="230.10" cy="149.20" r="1.95" fill="#fff" stroke="#262626" stroke-width="0.8"/>
<circle cx="235.20" cy="151.10" r="1.95" fill="#fff" stroke="#262626" stroke-width="0.8"/>
<circle cx="239.20" cy="152.40" r="1.95" fill="#fff" stroke="#262626" stroke-width="0.8"/>
<circle cx="244.10" cy="153.10" r="1.95" fill="#fff" stroke="#262626" stroke-width="0.8"/>
<circle cx="266.10" cy="157.80" r="1.95" fill="#fff" stroke="#262626" stroke-width="0.8"/>
<circle cx="288.80" cy="162.00" r="1.95" fill="#fff" stroke="#262626" stroke-width="0.8"/>
<circle cx="311.10" cy="164.30" r="1.95" fill="#fff" stroke="#262626" stroke-width="0.8"/>
<circle cx="77.90" cy="49.80" r="1.95" fill="#fff" stroke="#ff2424" stroke-width="0.8"/>
<circle cx="86.30" cy="51.80" r="1.95" fill="#fff" stroke="#ff2424" stroke-width="0.8"/>
<circle cx="100.60" cy="55.20" r="1.95" fill="#fff" stroke="#ff2424" stroke-width="0.8"/>
<circle cx="108.80" cy="57.80" r="1.95" fill="#fff" stroke="#ff2424" stroke-width="0.8"/>
<circle cx="118.00" cy="61.30" r="1.95" fill="#fff" stroke="#ff2424" stroke-width="0.8"/>
<circle cx="122.80" cy="62.30" r="1.95" fill="#fff" stroke="#ff2424" stroke-width="0.8"/>
<circle cx="131.20" cy="64.90" r="1.95" fill="#fff" stroke="#ff2424" stroke-width="0.8"/>
<circle cx="145.60" cy="70.70" r="1.95" fill="#fff" stroke="#ff2424" stroke-width="0.8"/>
<circle cx="154.00" cy="74.50" r="1.95" fill="#fff" stroke="#ff2424" stroke-width="0.8"/>
<circle cx="162.60" cy="79.20" r="1.95" fill="#fff" stroke="#ff2424" stroke-width="0.8"/>
<circle cx="167.70" cy="82.00" r="1.95" fill="#fff" stroke="#ff2424" stroke-width="0.8"/>
<circle cx="175.80" cy="86.80" r="1.95" fill="#fff" stroke="#ff2424" stroke-width="0.8"/>
<circle cx="190.10" cy="99.60" r="1.95" fill="#fff" stroke="#ff2424" stroke-width="0.8"/>
<circle cx="198.30" cy="108.30" r="1.95" fill="#fff" stroke="#ff2424" stroke-width="0.8"/>
<circle cx="212.60" cy="128.00" r="1.95" fill="#fff" stroke="#ff2424" stroke-width="0.8"/>
<circle cx="220.90" cy="135.50" r="1.95" fill="#fff" stroke="#ff2424" stroke-width="0.8"/>
<circle cx="243.70" cy="147.60" r="1.95" fill="#fff" stroke="#ff2424" stroke-width="0.8"/>
<circle cx="266.10" cy="154.00" r="1.95" fill="#fff" stroke="#ff2424" stroke-width="0.8"/>
<circle cx="288.80" cy="158.40" r="1.95" fill="#fff" stroke="#ff2424" stroke-width="0.8"/>
<circle cx="311.10" cy="162.00" r="1.95" fill="#fff" stroke="#ff2424" stroke-width="0.8"/>
<circle cx="77.90" cy="46.80" r="1.95" fill="#fff" stroke="#2828ff" stroke-width="0.8"/>
<circle cx="86.30" cy="48.80" r="1.95" fill="#fff" stroke="#2828ff" stroke-width="0.8"/>
<circle cx="100.60" cy="53.40" r="1.95" fill="#fff" stroke="#2828ff" stroke-width="0.8"/>
<circle cx="108.80" cy="55.70" r="1.95" fill="#fff" stroke="#2828ff" stroke-width="0.8"/>
<circle cx="118.00" cy="58.30" r="1.95" fill="#fff" stroke="#2828ff" stroke-width="0.8"/>
<circle cx="122.80" cy="59.30" r="1.95" fill="#fff" stroke="#2828ff" stroke-width="0.8"/>
<circle cx="131.20" cy="62.30" r="1.95" fill="#fff" stroke="#2828ff" stroke-width="0.8"/>
<circle cx="145.60" cy="66.80" r="1.95" fill="#fff" stroke="#2828ff" stroke-width="0.8"/>
<circle cx="154.00" cy="69.90" r="1.95" fill="#fff" stroke="#2828ff" stroke-width="0.8"/>
<circle cx="162.60" cy="73.90" r="1.95" fill="#fff" stroke="#2828ff" stroke-width="0.8"/>
<circle cx="167.70" cy="76.10" r="1.95" fill="#fff" stroke="#2828ff" stroke-width="0.8"/>
<circle cx="175.80" cy="80.20" r="1.95" fill="#fff" stroke="#2828ff" stroke-width="0.8"/>
<circle cx="190.10" cy="87.30" r="1.95" fill="#fff" stroke="#2828ff" stroke-width="0.8"/>
<circle cx="198.30" cy="93.00" r="1.95" fill="#fff" stroke="#2828ff" stroke-width="0.8"/>
<circle cx="203.10" cy="95.50" r="1.95" fill="#fff" stroke="#2828ff" stroke-width="0.8"/>
<circle cx="212.40" cy="102.40" r="1.95" fill="#fff" stroke="#2828ff" stroke-width="0.8"/>
<circle cx="220.90" cy="108.80" r="1.95" fill="#fff" stroke="#2828ff" stroke-width="0.8"/>
<circle cx="230.10" cy="114.90" r="1.95" fill="#fff" stroke="#2828ff" stroke-width="0.8"/>
<circle cx="234.70" cy="119.00" r="1.95" fill="#fff" stroke="#2828ff" stroke-width="0.8"/>
<circle cx="243.40" cy="124.10" r="1.95" fill="#fff" stroke="#2828ff" stroke-width="0.8"/>
<circle cx="248.00" cy="127.10" r="1.95" fill="#fff" stroke="#2828ff" stroke-width="0.8"/>
<circle cx="252.60" cy="129.20" r="1.95" fill="#fff" stroke="#2828ff" stroke-width="0.8"/>
<circle cx="257.00" cy="131.80" r="1.95" fill="#fff" stroke="#2828ff" stroke-width="0.8"/>
<circle cx="261.50" cy="133.90" r="1.95" fill="#fff" stroke="#2828ff" stroke-width="0.8"/>
<circle cx="270.70" cy="137.10" r="1.95" fill="#fff" stroke="#2828ff" stroke-width="0.8"/>
<circle cx="277.10" cy="139.60" r="1.95" fill="#fff" stroke="#2828ff" stroke-width="0.8"/>
<circle cx="288.80" cy="143.20" r="1.95" fill="#fff" stroke="#2828ff" stroke-width="0.8"/>
<circle cx="311.10" cy="148.60" r="1.95" fill="#fff" stroke="#2828ff" stroke-width="0.8"/>
<circle cx="77.90" cy="45.70" r="1.95" fill="#fff" stroke="#22e622" stroke-width="0.8"/>
<circle cx="86.30" cy="47.80" r="1.95" fill="#fff" stroke="#22e622" stroke-width="0.8"/>
<circle cx="100.60" cy="51.30" r="1.95" fill="#fff" stroke="#22e622" stroke-width="0.8"/>
<circle cx="108.80" cy="53.70" r="1.95" fill="#fff" stroke="#22e622" stroke-width="0.8"/>
<circle cx="118.00" cy="55.20" r="1.95" fill="#fff" stroke="#22e622" stroke-width="0.8"/>
<circle cx="122.80" cy="57.20" r="1.95" fill="#fff" stroke="#22e622" stroke-width="0.8"/>
<circle cx="131.20" cy="60.10" r="1.95" fill="#fff" stroke="#22e622" stroke-width="0.8"/>
<circle cx="145.60" cy="64.10" r="1.95" fill="#fff" stroke="#22e622" stroke-width="0.8"/>
<circle cx="154.00" cy="66.10" r="1.95" fill="#fff" stroke="#22e622" stroke-width="0.8"/>
<circle cx="162.80" cy="69.60" r="1.95" fill="#fff" stroke="#22e622" stroke-width="0.8"/>
<circle cx="167.70" cy="71.50" r="1.95" fill="#fff" stroke="#22e622" stroke-width="0.8"/>
<circle cx="175.80" cy="74.60" r="1.95" fill="#fff" stroke="#22e622" stroke-width="0.8"/>
<circle cx="190.10" cy="80.70" r="1.95" fill="#fff" stroke="#22e622" stroke-width="0.8"/>
<circle cx="198.30" cy="85.30" r="1.95" fill="#fff" stroke="#22e622" stroke-width="0.8"/>
<circle cx="212.80" cy="92.70" r="1.95" fill="#fff" stroke="#22e622" stroke-width="0.8"/>
<circle cx="220.90" cy="98.10" r="1.95" fill="#fff" stroke="#22e622" stroke-width="0.8"/>
<circle cx="235.10" cy="107.30" r="1.95" fill="#fff" stroke="#22e622" stroke-width="0.8"/>
<circle cx="243.40" cy="113.40" r="1.95" fill="#fff" stroke="#22e622" stroke-width="0.8"/>
<circle cx="265.40" cy="127.00" r="1.95" fill="#fff" stroke="#22e622" stroke-width="0.8"/>
<circle cx="288.80" cy="137.50" r="1.95" fill="#fff" stroke="#22e622" stroke-width="0.8"/>
<circle cx="311.10" cy="143.80" r="1.95" fill="#fff" stroke="#22e622" stroke-width="0.8"/>
<line x1="185.3" y1="74" x2="185.3" y2="206" stroke="#262626" stroke-width="1.1" stroke-dasharray="1.1,1.6"/>
<line x1="212.6" y1="74" x2="212.6" y2="206" stroke="#ff2424" stroke-width="1.1" stroke-dasharray="1.1,1.6"/>
<line x1="230.2" y1="74" x2="230.2" y2="206" stroke="#2828ff" stroke-width="1.1" stroke-dasharray="1.1,1.6"/>
<line x1="243.5" y1="74" x2="243.5" y2="206" stroke="#22e622" stroke-width="1.1" stroke-dasharray="1.1,1.6"/>
<rect x="186.3" y="176.6" width="55" height="26" fill="#fff"/>
<circle cx="197.40" cy="20.90" r="1.9" fill="#fff" stroke="#262626" stroke-width="0.9"/>
<text x="205.30" y="22.50" font-size="8.4" fill="#222"><tspan font-style="italic">ρ</tspan><tspan font-size="5.35" dy="3">CO2,10MPa</tspan></text>
<path d="M267.70,18.90 L269.70,22.50 L265.70,22.50 Z" fill="#fff" stroke="#262626" stroke-width="0.9"/>
<text x="276.20" y="22.20" font-size="8.4" fill="#222"><tspan font-style="italic">h</tspan><tspan font-size="5.35" dy="3">CO2,10MPa</tspan></text>
<circle cx="197.40" cy="33.60" r="1.9" fill="#fff" stroke="#ff2424" stroke-width="0.9"/>
<text x="205.30" y="35.20" font-size="8.4" fill="#222"><tspan font-style="italic">ρ</tspan><tspan font-size="5.35" dy="3">CO2+C6H6,10MPa</tspan></text>
<path d="M267.70,31.60 L269.70,35.20 L265.70,35.20 Z" fill="#fff" stroke="#ff2424" stroke-width="0.9"/>
<text x="276.20" y="34.90" font-size="8.4" fill="#222"><tspan font-style="italic">h</tspan><tspan font-size="5.35" dy="3">CO2+C6H6,10MPa</tspan></text>
<circle cx="197.40" cy="46.30" r="1.9" fill="#fff" stroke="#2828ff" stroke-width="0.9"/>
<text x="205.30" y="47.90" font-size="8.4" fill="#222"><tspan font-style="italic">ρ</tspan><tspan font-size="5.35" dy="3">CO2,12MPa</tspan></text>
<path d="M267.70,44.30 L269.70,47.90 L265.70,47.90 Z" fill="#fff" stroke="#2828ff" stroke-width="0.9"/>
<text x="276.20" y="47.60" font-size="8.4" fill="#222"><tspan font-style="italic">h</tspan><tspan font-size="5.35" dy="3">CO2,12MPa</tspan></text>
<circle cx="197.40" cy="59.10" r="1.9" fill="#fff" stroke="#22e622" stroke-width="0.9"/>
<text x="205.30" y="60.70" font-size="8.4" fill="#222"><tspan font-style="italic">ρ</tspan><tspan font-size="5.35" dy="3">CO2+C6H6,12MPa</tspan></text>
<path d="M267.70,57.10 L269.70,60.70 L265.70,60.70 Z" fill="#fff" stroke="#22e622" stroke-width="0.9"/>
<text x="276.20" y="60.40" font-size="8.4" fill="#222"><tspan font-style="italic">h</tspan><tspan font-size="5.35" dy="3">CO2+C6H6,12MPa</tspan></text>
<text x="169.5" y="192.8" font-size="8" fill="#111">CO<tspan font-size="5.5" dy="2">2</tspan></text>
<text transform="translate(186.2,185.8) scale(0.9,1)" font-size="8.4" fill="#ff2020">+1.5 mol% C<tspan font-size="5.5" dy="2">6</tspan><tspan dy="-2">H</tspan><tspan font-size="5.5" dy="2">6</tspan></text>
<line x1="186" y1="188" x2="211" y2="188" stroke="#ff4040" stroke-width="1"/><path d="M212.5,188 L208,186.5 L208,189.5 Z" fill="#ff2020"/>
<line x1="186" y1="191.2" x2="228" y2="191.2" stroke="#4040ff" stroke-width="1"/><path d="M229.5,191.2 L225,189.7 L225,192.7 Z" fill="#2020ff"/>
<text transform="translate(186.4,200.5) scale(0.85,1)" font-size="8.4" fill="#2020ff">Δ<tspan font-style="italic">p</tspan> = +2 MPa</text>
<line x1="185.2" y1="269" x2="185.2" y2="400.3" stroke="#262626" stroke-width="1.1" stroke-dasharray="1.1,1.6"/>
<line x1="212.8" y1="269" x2="212.8" y2="400.3" stroke="#ff2424" stroke-width="1.1" stroke-dasharray="1.1,1.6"/>
<line x1="230.1" y1="269" x2="230.1" y2="400.3" stroke="#2828ff" stroke-width="1.1" stroke-dasharray="1.1,1.6"/>
<line x1="243.2" y1="269" x2="243.2" y2="400.3" stroke="#22e622" stroke-width="1.1" stroke-dasharray="1.1,1.6"/>
<path d="M63.50,285.20 C67.17,287.17 77.58,292.53 85.50,297.00 C93.42,301.47 102.70,306.15 111.00,312.00 C119.30,317.85 128.70,326.83 135.30,332.10 C141.90,337.37 146.48,339.87 150.60,343.60 C154.72,347.33 156.40,351.12 160.00,354.50 C163.60,357.88 168.12,360.98 172.20,363.90 C176.28,366.82 180.42,369.80 184.50,372.00 C188.58,374.20 192.28,375.90 196.70,377.10 C201.12,378.30 206.23,379.02 211.00,379.20 C215.77,379.38 220.47,378.55 225.30,378.20 C230.13,377.85 233.92,377.93 240.00,377.10 C246.08,376.27 253.70,374.13 261.80,373.20 C269.90,372.27 276.65,372.08 288.60,371.50 C300.55,370.92 326.02,370.00 333.50,369.70" fill="none" stroke="#262626" stroke-width="1.15" stroke-dasharray="4.5,2.3"/>
<path d="M63.50,280.00 C67.17,282.00 77.58,287.53 85.50,292.00 C93.42,296.47 102.70,301.63 111.00,306.80 C119.30,311.97 128.70,318.40 135.30,323.00 C141.90,327.60 146.48,330.73 150.60,334.40 C154.72,338.07 156.40,341.45 160.00,345.00 C163.60,348.55 168.12,352.22 172.20,355.70 C176.28,359.18 180.42,363.00 184.50,365.90 C188.58,368.80 192.28,371.05 196.70,373.10 C201.12,375.15 206.23,377.18 211.00,378.20 C215.77,379.22 220.47,379.20 225.30,379.20 C230.13,379.20 233.92,378.98 240.00,378.20 C246.08,377.42 253.70,375.45 261.80,374.50 C269.90,373.55 276.65,373.17 288.60,372.50 C300.55,371.83 326.02,370.83 333.50,370.50" fill="none" stroke="#ff2424" stroke-width="1.15" stroke-dasharray="4.5,2.3"/>
<path d="M63.50,274.00 C67.17,276.12 77.58,282.23 85.50,286.70 C93.42,291.17 102.70,296.02 111.00,300.80 C119.30,305.58 128.70,311.33 135.30,315.40 C141.90,319.47 146.48,322.60 150.60,325.20 C154.72,327.80 156.40,328.95 160.00,331.00 C163.60,333.05 168.12,335.25 172.20,337.50 C176.28,339.75 180.42,341.97 184.50,344.50 C188.58,347.03 192.28,349.82 196.70,352.70 C201.12,355.58 206.23,359.25 211.00,361.80 C215.77,364.35 220.47,366.38 225.30,368.00 C230.13,369.62 233.92,370.83 240.00,371.50 C246.08,372.17 253.70,372.00 261.80,372.00 C269.90,372.00 276.65,372.20 288.60,371.50 C300.55,370.80 326.02,368.42 333.50,367.80" fill="none" stroke="#2828ff" stroke-width="1.15" stroke-dasharray="4.5,2.3"/>
<path d="M63.50,269.60 C67.17,271.57 77.58,277.33 85.50,281.40 C93.42,285.47 102.50,289.57 111.00,294.00 C119.50,298.43 129.90,304.07 136.50,308.00 C143.10,311.93 146.68,314.68 150.60,317.60 C154.52,320.52 156.40,322.88 160.00,325.50 C163.60,328.12 168.12,330.82 172.20,333.30 C176.28,335.78 180.42,337.68 184.50,340.40 C188.58,343.12 192.28,346.70 196.70,349.60 C201.12,352.50 206.23,355.58 211.00,357.80 C215.77,360.02 220.47,361.62 225.30,362.90 C230.13,364.18 233.92,364.48 240.00,365.50 C246.08,366.52 253.70,368.25 261.80,369.00 C269.90,369.75 276.65,370.20 288.60,370.00 C300.55,369.80 326.02,368.17 333.50,367.80" fill="none" stroke="#22e622" stroke-width="1.15" stroke-dasharray="4.5,2.3"/>
<path d="M63.50,332.30 C69.58,331.50 90.58,328.80 100.00,327.50 C109.42,326.20 114.12,325.38 120.00,324.50 C125.88,323.62 130.20,323.35 135.30,322.20 C140.40,321.05 145.50,319.40 150.60,317.60 C155.70,315.80 161.83,313.58 165.90,311.40 C169.97,309.22 172.30,306.18 175.00,304.50 C177.70,302.82 179.42,302.05 182.10,301.30 C184.78,300.55 188.12,299.92 191.10,300.00 C194.08,300.08 196.73,300.40 200.00,301.80 C203.27,303.20 207.13,306.27 210.70,308.40 C214.27,310.53 217.83,312.97 221.40,314.60 C224.97,316.23 228.67,316.88 232.10,318.20 C235.53,319.52 236.43,320.58 242.00,322.50 C247.57,324.42 257.33,327.77 265.50,329.70 C273.67,331.63 282.50,332.68 291.00,334.10 C299.50,335.52 309.42,337.22 316.50,338.20 C323.58,339.18 330.67,339.70 333.50,340.00" fill="none" stroke="#262626" stroke-width="1.15"/>
<path d="M63.50,332.50 C69.58,331.88 90.58,329.88 100.00,328.80 C109.42,327.72 114.12,326.72 120.00,326.00 C125.88,325.28 130.20,325.27 135.30,324.50 C140.40,323.73 145.50,322.68 150.60,321.40 C155.70,320.12 161.83,318.07 165.90,316.80 C169.97,315.53 171.70,315.20 175.00,313.80 C178.30,312.40 182.13,310.05 185.70,308.40 C189.27,306.75 192.83,304.80 196.40,303.90 C199.97,303.00 203.52,302.70 207.10,303.00 C210.68,303.30 214.32,304.50 217.90,305.70 C221.48,306.90 224.58,308.32 228.60,310.20 C232.62,312.08 235.85,315.02 242.00,317.00 C248.15,318.98 257.33,320.10 265.50,322.10 C273.67,324.10 282.50,326.88 291.00,329.00 C299.50,331.12 309.42,333.40 316.50,334.80 C323.58,336.20 330.67,336.97 333.50,337.40" fill="none" stroke="#ff2424" stroke-width="1.15"/>
<path d="M63.50,333.50 C72.92,332.63 105.48,329.80 120.00,328.30 C134.52,326.80 142.95,325.40 150.60,324.50 C158.25,323.60 161.83,323.23 165.90,322.90 C169.97,322.57 170.50,322.83 175.00,322.50 C179.50,322.17 186.95,321.77 192.90,320.90 C198.85,320.03 205.35,318.48 210.70,317.30 C216.05,316.12 220.83,314.38 225.00,313.80 C229.17,313.22 232.37,313.60 235.70,313.80 C239.03,314.00 240.03,314.05 245.00,315.00 C249.97,315.95 257.83,317.77 265.50,319.50 C273.17,321.23 282.50,323.48 291.00,325.40 C299.50,327.32 309.42,329.55 316.50,331.00 C323.58,332.45 330.67,333.58 333.50,334.10" fill="none" stroke="#2828ff" stroke-width="1.15"/>
<path d="M63.50,334.50 C72.92,333.72 105.48,331.08 120.00,329.80 C134.52,328.52 142.95,327.57 150.60,326.80 C158.25,326.03 161.83,325.58 165.90,325.20 C169.97,324.82 170.50,324.92 175.00,324.50 C179.50,324.08 186.95,323.45 192.90,322.70 C198.85,321.95 205.35,321.20 210.70,320.00 C216.05,318.80 220.83,316.68 225.00,315.50 C229.17,314.32 232.37,313.38 235.70,312.90 C239.03,312.42 240.03,312.13 245.00,312.60 C249.97,313.07 257.83,314.42 265.50,315.70 C273.17,316.98 282.50,318.68 291.00,320.30 C299.50,321.92 309.42,323.95 316.50,325.40 C323.58,326.85 330.67,328.40 333.50,329.00" fill="none" stroke="#22e622" stroke-width="1.15"/>
<rect x="76.00" y="275.20" width="3.8" height="3.8" fill="#fff" stroke="#22e622" stroke-width="0.8"/>
<rect x="84.20" y="281.00" width="3.8" height="3.8" fill="#fff" stroke="#22e622" stroke-width="0.8"/>
<rect x="98.30" y="289.20" width="3.8" height="3.8" fill="#fff" stroke="#22e622" stroke-width="0.8"/>
<rect x="106.60" y="293.10" width="3.8" height="3.8" fill="#fff" stroke="#22e622" stroke-width="0.8"/>
<rect x="115.90" y="299.80" width="3.8" height="3.8" fill="#fff" stroke="#22e622" stroke-width="0.8"/>
<rect x="121.00" y="301.10" width="3.8" height="3.8" fill="#fff" stroke="#22e622" stroke-width="0.8"/>
<rect x="129.20" y="308.10" width="3.8" height="3.8" fill="#fff" stroke="#22e622" stroke-width="0.8"/>
<rect x="143.60" y="315.40" width="3.8" height="3.8" fill="#fff" stroke="#22e622" stroke-width="0.8"/>
<rect x="151.60" y="316.40" width="3.8" height="3.8" fill="#fff" stroke="#22e622" stroke-width="0.8"/>
<rect x="165.60" y="323.30" width="3.8" height="3.8" fill="#fff" stroke="#22e622" stroke-width="0.8"/>
<rect x="174.00" y="332.10" width="3.8" height="3.8" fill="#fff" stroke="#22e622" stroke-width="0.8"/>
<rect x="188.70" y="340.50" width="3.8" height="3.8" fill="#fff" stroke="#22e622" stroke-width="0.8"/>
<rect x="196.90" y="349.70" width="3.8" height="3.8" fill="#fff" stroke="#22e622" stroke-width="0.8"/>
<rect x="210.80" y="358.90" width="3.8" height="3.8" fill="#fff" stroke="#22e622" stroke-width="0.8"/>
<rect x="219.30" y="362.00" width="3.8" height="3.8" fill="#fff" stroke="#22e622" stroke-width="0.8"/>
<rect x="233.60" y="370.80" width="3.8" height="3.8" fill="#fff" stroke="#22e622" stroke-width="0.8"/>
<rect x="241.10" y="369.90" width="3.8" height="3.8" fill="#fff" stroke="#22e622" stroke-width="0.8"/>
<rect x="263.90" y="375.30" width="3.8" height="3.8" fill="#fff" stroke="#22e622" stroke-width="0.8"/>
<rect x="286.70" y="375.30" width="3.8" height="3.8" fill="#fff" stroke="#22e622" stroke-width="0.8"/>
<rect x="309.50" y="375.30" width="3.8" height="3.8" fill="#fff" stroke="#22e622" stroke-width="0.8"/>
<rect x="76.00" y="286.10" width="3.8" height="3.8" fill="#fff" stroke="#2828ff" stroke-width="0.8"/>
<rect x="84.20" y="290.50" width="3.8" height="3.8" fill="#fff" stroke="#2828ff" stroke-width="0.8"/>
<rect x="98.30" y="298.20" width="3.8" height="3.8" fill="#fff" stroke="#2828ff" stroke-width="0.8"/>
<rect x="106.60" y="298.80" width="3.8" height="3.8" fill="#fff" stroke="#2828ff" stroke-width="0.8"/>
<rect x="115.90" y="306.20" width="3.8" height="3.8" fill="#fff" stroke="#2828ff" stroke-width="0.8"/>
<rect x="121.00" y="306.80" width="3.8" height="3.8" fill="#fff" stroke="#2828ff" stroke-width="0.8"/>
<rect x="129.20" y="315.10" width="3.8" height="3.8" fill="#fff" stroke="#2828ff" stroke-width="0.8"/>
<rect x="160.20" y="333.30" width="3.8" height="3.8" fill="#fff" stroke="#2828ff" stroke-width="0.8"/>
<rect x="166.30" y="340.20" width="3.8" height="3.8" fill="#fff" stroke="#2828ff" stroke-width="0.8"/>
<rect x="174.00" y="340.50" width="3.8" height="3.8" fill="#fff" stroke="#2828ff" stroke-width="0.8"/>
<rect x="188.70" y="349.70" width="3.8" height="3.8" fill="#fff" stroke="#2828ff" stroke-width="0.8"/>
<rect x="201.00" y="355.90" width="3.8" height="3.8" fill="#fff" stroke="#2828ff" stroke-width="0.8"/>
<rect x="210.80" y="362.00" width="3.8" height="3.8" fill="#fff" stroke="#2828ff" stroke-width="0.8"/>
<rect x="218.90" y="368.70" width="3.8" height="3.8" fill="#fff" stroke="#2828ff" stroke-width="0.8"/>
<rect x="227.50" y="375.20" width="3.8" height="3.8" fill="#fff" stroke="#2828ff" stroke-width="0.8"/>
<rect x="245.10" y="376.60" width="3.8" height="3.8" fill="#fff" stroke="#2828ff" stroke-width="0.8"/>
<rect x="250.50" y="375.30" width="3.8" height="3.8" fill="#fff" stroke="#2828ff" stroke-width="0.8"/>
<rect x="255.90" y="373.90" width="3.8" height="3.8" fill="#fff" stroke="#2828ff" stroke-width="0.8"/>
<rect x="259.90" y="376.60" width="3.8" height="3.8" fill="#fff" stroke="#2828ff" stroke-width="0.8"/>
<rect x="267.90" y="376.60" width="3.8" height="3.8" fill="#fff" stroke="#2828ff" stroke-width="0.8"/>
<rect x="274.70" y="369.90" width="3.8" height="3.8" fill="#fff" stroke="#2828ff" stroke-width="0.8"/>
<rect x="76.00" y="288.00" width="3.8" height="3.8" fill="#fff" stroke="#ff2424" stroke-width="0.8"/>
<rect x="84.20" y="293.10" width="3.8" height="3.8" fill="#fff" stroke="#ff2424" stroke-width="0.8"/>
<rect x="98.30" y="298.80" width="3.8" height="3.8" fill="#fff" stroke="#ff2424" stroke-width="0.8"/>
<rect x="106.60" y="303.90" width="3.8" height="3.8" fill="#fff" stroke="#ff2424" stroke-width="0.8"/>
<rect x="115.90" y="308.70" width="3.8" height="3.8" fill="#fff" stroke="#ff2424" stroke-width="0.8"/>
<rect x="121.00" y="314.50" width="3.8" height="3.8" fill="#fff" stroke="#ff2424" stroke-width="0.8"/>
<rect x="129.20" y="317.60" width="3.8" height="3.8" fill="#fff" stroke="#ff2424" stroke-width="0.8"/>
<rect x="151.50" y="337.10" width="3.8" height="3.8" fill="#fff" stroke="#ff2424" stroke-width="0.8"/>
<rect x="160.20" y="344.80" width="3.8" height="3.8" fill="#fff" stroke="#ff2424" stroke-width="0.8"/>
<rect x="165.90" y="345.60" width="3.8" height="3.8" fill="#fff" stroke="#ff2424" stroke-width="0.8"/>
<rect x="174.00" y="354.80" width="3.8" height="3.8" fill="#fff" stroke="#ff2424" stroke-width="0.8"/>
<rect x="188.30" y="367.50" width="3.8" height="3.8" fill="#fff" stroke="#ff2424" stroke-width="0.8"/>
<rect x="196.90" y="376.30" width="3.8" height="3.8" fill="#fff" stroke="#ff2424" stroke-width="0.8"/>
<rect x="211.20" y="383.40" width="3.8" height="3.8" fill="#fff" stroke="#ff2424" stroke-width="0.8"/>
<rect x="219.30" y="382.40" width="3.8" height="3.8" fill="#fff" stroke="#ff2424" stroke-width="0.8"/>
<rect x="241.10" y="380.60" width="3.8" height="3.8" fill="#fff" stroke="#ff2424" stroke-width="0.8"/>
<rect x="263.90" y="380.60" width="3.8" height="3.8" fill="#fff" stroke="#ff2424" stroke-width="0.8"/>
<rect x="286.70" y="378.00" width="3.8" height="3.8" fill="#fff" stroke="#ff2424" stroke-width="0.8"/>
<rect x="309.50" y="376.60" width="3.8" height="3.8" fill="#fff" stroke="#ff2424" stroke-width="0.8"/>
<rect x="61.60" y="283.10" width="3.8" height="3.8" fill="#fff" stroke="#262626" stroke-width="0.8"/>
<rect x="76.00" y="298.60" width="3.8" height="3.8" fill="#fff" stroke="#262626" stroke-width="0.8"/>
<rect x="84.20" y="294.80" width="3.8" height="3.8" fill="#fff" stroke="#262626" stroke-width="0.8"/>
<rect x="98.50" y="312.10" width="3.8" height="3.8" fill="#fff" stroke="#262626" stroke-width="0.8"/>
<rect x="106.80" y="310.10" width="3.8" height="3.8" fill="#fff" stroke="#262626" stroke-width="0.8"/>
<rect x="115.50" y="321.30" width="3.8" height="3.8" fill="#fff" stroke="#262626" stroke-width="0.8"/>
<rect x="120.60" y="321.60" width="3.8" height="3.8" fill="#fff" stroke="#262626" stroke-width="0.8"/>
<rect x="143.60" y="340.70" width="3.8" height="3.8" fill="#fff" stroke="#262626" stroke-width="0.8"/>
<rect x="152.50" y="350.70" width="3.8" height="3.8" fill="#fff" stroke="#262626" stroke-width="0.8"/>
<rect x="160.10" y="354.80" width="3.8" height="3.8" fill="#fff" stroke="#262626" stroke-width="0.8"/>
<rect x="165.90" y="361.00" width="3.8" height="3.8" fill="#fff" stroke="#262626" stroke-width="0.8"/>
<rect x="174.00" y="371.60" width="3.8" height="3.8" fill="#fff" stroke="#262626" stroke-width="0.8"/>
<rect x="183.60" y="384.40" width="3.8" height="3.8" fill="#fff" stroke="#262626" stroke-width="0.8"/>
<rect x="188.30" y="387.50" width="3.8" height="3.8" fill="#fff" stroke="#262626" stroke-width="0.8"/>
<rect x="191.80" y="381.40" width="3.8" height="3.8" fill="#fff" stroke="#262626" stroke-width="0.8"/>
<rect x="201.00" y="383.00" width="3.8" height="3.8" fill="#fff" stroke="#262626" stroke-width="0.8"/>
<rect x="206.10" y="380.30" width="3.8" height="3.8" fill="#fff" stroke="#262626" stroke-width="0.8"/>
<rect x="210.10" y="379.30" width="3.8" height="3.8" fill="#fff" stroke="#262626" stroke-width="0.8"/>
<rect x="215.20" y="379.30" width="3.8" height="3.8" fill="#fff" stroke="#262626" stroke-width="0.8"/>
<rect x="223.40" y="380.30" width="3.8" height="3.8" fill="#fff" stroke="#262626" stroke-width="0.8"/>
<rect x="228.50" y="380.30" width="3.8" height="3.8" fill="#fff" stroke="#262626" stroke-width="0.8"/>
<rect x="233.60" y="384.40" width="3.8" height="3.8" fill="#fff" stroke="#262626" stroke-width="0.8"/>
<rect x="237.10" y="384.70" width="3.8" height="3.8" fill="#fff" stroke="#262626" stroke-width="0.8"/>
<rect x="331.40" y="375.30" width="3.8" height="3.8" fill="#fff" stroke="#262626" stroke-width="0.8"/>
<path d="M78.10,329.90 V335.90 M75.60,329.90 H80.60 M75.60,335.90 H80.60" stroke="#22e622" stroke-width="0.7" fill="none"/>
<path d="M78.10,334.90 L80.10,331.30 L76.10,331.30 Z" fill="#fff" stroke="#22e622" stroke-width="0.8"/>
<path d="M86.30,329.20 V335.20 M83.80,329.20 H88.80 M83.80,335.20 H88.80" stroke="#22e622" stroke-width="0.7" fill="none"/>
<path d="M86.30,334.20 L88.30,330.60 L84.30,330.60 Z" fill="#fff" stroke="#22e622" stroke-width="0.8"/>
<path d="M100.60,326.90 V332.90 M98.10,326.90 H103.10 M98.10,332.90 H103.10" stroke="#22e622" stroke-width="0.7" fill="none"/>
<path d="M100.60,331.90 L102.60,328.30 L98.60,328.30 Z" fill="#fff" stroke="#22e622" stroke-width="0.8"/>
<path d="M108.70,326.90 V332.90 M106.20,326.90 H111.20 M106.20,332.90 H111.20" stroke="#22e622" stroke-width="0.7" fill="none"/>
<path d="M108.70,331.90 L110.70,328.30 L106.70,328.30 Z" fill="#fff" stroke="#22e622" stroke-width="0.8"/>
<path d="M117.90,325.30 V331.30 M115.40,325.30 H120.40 M115.40,331.30 H120.40" stroke="#22e622" stroke-width="0.7" fill="none"/>
<path d="M117.90,330.30 L119.90,326.70 L115.90,326.70 Z" fill="#fff" stroke="#22e622" stroke-width="0.8"/>
<path d="M122.90,326.80 V332.80 M120.40,326.80 H125.40 M120.40,332.80 H125.40" stroke="#22e622" stroke-width="0.7" fill="none"/>
<path d="M122.90,331.80 L124.90,328.20 L120.90,328.20 Z" fill="#fff" stroke="#22e622" stroke-width="0.8"/>
<path d="M131.10,323.80 V329.80 M128.60,323.80 H133.60 M128.60,329.80 H133.60" stroke="#22e622" stroke-width="0.7" fill="none"/>
<path d="M131.10,328.80 L133.10,325.20 L129.10,325.20 Z" fill="#fff" stroke="#22e622" stroke-width="0.8"/>
<path d="M145.60,315.30 V321.30 M143.10,315.30 H148.10 M143.10,321.30 H148.10" stroke="#22e622" stroke-width="0.7" fill="none"/>
<path d="M145.60,320.30 L147.60,316.70 L143.60,316.70 Z" fill="#fff" stroke="#22e622" stroke-width="0.8"/>
<path d="M154.00,315.30 V321.30 M151.50,315.30 H156.50 M151.50,321.30 H156.50" stroke="#22e622" stroke-width="0.7" fill="none"/>
<path d="M154.00,320.30 L156.00,316.70 L152.00,316.70 Z" fill="#fff" stroke="#22e622" stroke-width="0.8"/>
<path d="M162.60,321.50 V327.50 M160.10,321.50 H165.10 M160.10,327.50 H165.10" stroke="#22e622" stroke-width="0.7" fill="none"/>
<path d="M162.60,326.50 L164.60,322.90 L160.60,322.90 Z" fill="#fff" stroke="#22e622" stroke-width="0.8"/>
<path d="M167.70,322.20 V328.20 M165.20,322.20 H170.20 M165.20,328.20 H170.20" stroke="#22e622" stroke-width="0.7" fill="none"/>
<path d="M167.70,327.20 L169.70,323.60 L165.70,323.60 Z" fill="#fff" stroke="#22e622" stroke-width="0.8"/>
<path d="M175.80,319.20 V325.20 M173.30,319.20 H178.30 M173.30,325.20 H178.30" stroke="#22e622" stroke-width="0.7" fill="none"/>
<path d="M175.80,324.20 L177.80,320.60 L173.80,320.60 Z" fill="#fff" stroke="#22e622" stroke-width="0.8"/>
<path d="M198.20,309.90 V315.90 M195.70,309.90 H200.70 M195.70,315.90 H200.70" stroke="#22e622" stroke-width="0.7" fill="none"/>
<path d="M198.20,314.90 L200.20,311.30 L196.20,311.30 Z" fill="#fff" stroke="#22e622" stroke-width="0.8"/>
<path d="M212.50,309.00 V315.00 M210.00,309.00 H215.00 M210.00,315.00 H215.00" stroke="#22e622" stroke-width="0.7" fill="none"/>
<path d="M212.50,314.00 L214.50,310.40 L210.50,310.40 Z" fill="#fff" stroke="#22e622" stroke-width="0.8"/>
<path d="M220.50,308.10 V314.10 M218.00,308.10 H223.00 M218.00,314.10 H223.00" stroke="#22e622" stroke-width="0.7" fill="none"/>
<path d="M220.50,313.10 L222.50,309.50 L218.50,309.50 Z" fill="#fff" stroke="#22e622" stroke-width="0.8"/>
<path d="M235.70,300.00 V306.00 M233.20,300.00 H238.20 M233.20,306.00 H238.20" stroke="#22e622" stroke-width="0.7" fill="none"/>
<path d="M235.70,305.00 L237.70,301.40 L233.70,301.40 Z" fill="#fff" stroke="#22e622" stroke-width="0.8"/>
<path d="M243.00,303.00 V309.00 M240.50,303.00 H245.50 M240.50,309.00 H245.50" stroke="#22e622" stroke-width="0.7" fill="none"/>
<path d="M243.00,308.00 L245.00,304.40 L241.00,304.40 Z" fill="#fff" stroke="#22e622" stroke-width="0.8"/>
<path d="M265.50,308.90 V314.90 M263.00,308.90 H268.00 M263.00,314.90 H268.00" stroke="#22e622" stroke-width="0.7" fill="none"/>
<path d="M265.50,313.90 L267.50,310.30 L263.50,310.30 Z" fill="#fff" stroke="#22e622" stroke-width="0.8"/>
<path d="M288.50,315.80 V321.80 M286.00,315.80 H291.00 M286.00,321.80 H291.00" stroke="#22e622" stroke-width="0.7" fill="none"/>
<path d="M288.50,320.80 L290.50,317.20 L286.50,317.20 Z" fill="#fff" stroke="#22e622" stroke-width="0.8"/>
<path d="M311.40,320.40 V326.40 M308.90,320.40 H313.90 M308.90,326.40 H313.90" stroke="#22e622" stroke-width="0.7" fill="none"/>
<path d="M311.40,325.40 L313.40,321.80 L309.40,321.80 Z" fill="#fff" stroke="#22e622" stroke-width="0.8"/>
<path d="M78.10,326.90 V332.90 M75.60,326.90 H80.60 M75.60,332.90 H80.60" stroke="#2828ff" stroke-width="0.7" fill="none"/>
<path d="M78.10,331.90 L80.10,328.30 L76.10,328.30 Z" fill="#fff" stroke="#2828ff" stroke-width="0.8"/>
<path d="M86.30,325.30 V331.30 M83.80,325.30 H88.80 M83.80,331.30 H88.80" stroke="#2828ff" stroke-width="0.7" fill="none"/>
<path d="M86.30,330.30 L88.30,326.70 L84.30,326.70 Z" fill="#fff" stroke="#2828ff" stroke-width="0.8"/>
<path d="M100.60,324.30 V330.30 M98.10,324.30 H103.10 M98.10,330.30 H103.10" stroke="#2828ff" stroke-width="0.7" fill="none"/>
<path d="M100.60,329.30 L102.60,325.70 L98.60,325.70 Z" fill="#fff" stroke="#2828ff" stroke-width="0.8"/>
<path d="M122.90,325.30 V331.30 M120.40,325.30 H125.40 M120.40,331.30 H125.40" stroke="#2828ff" stroke-width="0.7" fill="none"/>
<path d="M122.90,330.30 L124.90,326.70 L120.90,326.70 Z" fill="#fff" stroke="#2828ff" stroke-width="0.8"/>
<path d="M145.60,326.00 V332.00 M143.10,326.00 H148.10 M143.10,332.00 H148.10" stroke="#2828ff" stroke-width="0.7" fill="none"/>
<path d="M145.60,331.00 L147.60,327.40 L143.60,327.40 Z" fill="#fff" stroke="#2828ff" stroke-width="0.8"/>
<path d="M154.00,321.50 V327.50 M151.50,321.50 H156.50 M151.50,327.50 H156.50" stroke="#2828ff" stroke-width="0.7" fill="none"/>
<path d="M154.00,326.50 L156.00,322.90 L152.00,322.90 Z" fill="#fff" stroke="#2828ff" stroke-width="0.8"/>
<path d="M167.70,313.00 V319.00 M165.20,313.00 H170.20 M165.20,319.00 H170.20" stroke="#2828ff" stroke-width="0.7" fill="none"/>
<path d="M167.70,318.00 L169.70,314.40 L165.70,314.40 Z" fill="#fff" stroke="#2828ff" stroke-width="0.8"/>
<path d="M190.20,318.80 V324.80 M187.70,318.80 H192.70 M187.70,324.80 H192.70" stroke="#2828ff" stroke-width="0.7" fill="none"/>
<path d="M190.20,323.80 L192.20,320.20 L188.20,320.20 Z" fill="#fff" stroke="#2828ff" stroke-width="0.8"/>
<path d="M202.70,318.80 V324.80 M200.20,318.80 H205.20 M200.20,324.80 H205.20" stroke="#2828ff" stroke-width="0.7" fill="none"/>
<path d="M202.70,323.80 L204.70,320.20 L200.70,320.20 Z" fill="#fff" stroke="#2828ff" stroke-width="0.8"/>
<path d="M212.50,315.20 V321.20 M210.00,315.20 H215.00 M210.00,321.20 H215.00" stroke="#2828ff" stroke-width="0.7" fill="none"/>
<path d="M212.50,320.20 L214.50,316.60 L210.50,316.60 Z" fill="#fff" stroke="#2828ff" stroke-width="0.8"/>
<path d="M230.00,300.00 V306.00 M227.50,300.00 H232.50 M227.50,306.00 H232.50" stroke="#2828ff" stroke-width="0.7" fill="none"/>
<path d="M230.00,305.00 L232.00,301.40 L228.00,301.40 Z" fill="#fff" stroke="#2828ff" stroke-width="0.8"/>
<path d="M234.80,306.30 V312.30 M232.30,306.30 H237.30 M232.30,312.30 H237.30" stroke="#2828ff" stroke-width="0.7" fill="none"/>
<path d="M234.80,311.30 L236.80,307.70 L232.80,307.70 Z" fill="#fff" stroke="#2828ff" stroke-width="0.8"/>
<path d="M243.80,302.50 V308.50 M241.30,302.50 H246.30 M241.30,308.50 H246.30" stroke="#2828ff" stroke-width="0.7" fill="none"/>
<path d="M243.80,307.50 L245.80,303.90 L241.80,303.90 Z" fill="#fff" stroke="#2828ff" stroke-width="0.8"/>
<path d="M252.80,312.70 V318.70 M250.30,312.70 H255.30 M250.30,318.70 H255.30" stroke="#2828ff" stroke-width="0.7" fill="none"/>
<path d="M252.80,317.70 L254.80,314.10 L250.80,314.10 Z" fill="#fff" stroke="#2828ff" stroke-width="0.8"/>
<path d="M261.70,310.20 V316.20 M259.20,310.20 H264.20 M259.20,316.20 H264.20" stroke="#2828ff" stroke-width="0.7" fill="none"/>
<path d="M261.70,315.20 L263.70,311.60 L259.70,311.60 Z" fill="#fff" stroke="#2828ff" stroke-width="0.8"/>
<path d="M270.60,314.00 V320.00 M268.10,314.00 H273.10 M268.10,320.00 H273.10" stroke="#2828ff" stroke-width="0.7" fill="none"/>
<path d="M270.60,319.00 L272.60,315.40 L268.60,315.40 Z" fill="#fff" stroke="#2828ff" stroke-width="0.8"/>
<path d="M288.50,322.40 V328.40 M286.00,322.40 H291.00 M286.00,328.40 H291.00" stroke="#2828ff" stroke-width="0.7" fill="none"/>
<path d="M288.50,327.40 L290.50,323.80 L286.50,323.80 Z" fill="#fff" stroke="#2828ff" stroke-width="0.8"/>
<path d="M311.40,328.00 V334.00 M308.90,328.00 H313.90 M308.90,334.00 H313.90" stroke="#2828ff" stroke-width="0.7" fill="none"/>
<path d="M311.40,333.00 L313.40,329.40 L309.40,329.40 Z" fill="#fff" stroke="#2828ff" stroke-width="0.8"/>
<path d="M78.10,325.30 V331.30 M75.60,325.30 H80.60 M75.60,331.30 H80.60" stroke="#ff2424" stroke-width="0.7" fill="none"/>
<path d="M78.10,330.30 L80.10,326.70 L76.10,326.70 Z" fill="#fff" stroke="#ff2424" stroke-width="0.8"/>
<path d="M86.30,327.60 V333.60 M83.80,327.60 H88.80 M83.80,333.60 H88.80" stroke="#ff2424" stroke-width="0.7" fill="none"/>
<path d="M86.30,332.60 L88.30,329.00 L84.30,329.00 Z" fill="#fff" stroke="#ff2424" stroke-width="0.8"/>
<path d="M100.60,325.80 V331.80 M98.10,325.80 H103.10 M98.10,331.80 H103.10" stroke="#ff2424" stroke-width="0.7" fill="none"/>
<path d="M100.60,330.80 L102.60,327.20 L98.60,327.20 Z" fill="#fff" stroke="#ff2424" stroke-width="0.8"/>
<path d="M108.70,323.80 V329.80 M106.20,323.80 H111.20 M106.20,329.80 H111.20" stroke="#ff2424" stroke-width="0.7" fill="none"/>
<path d="M108.70,328.80 L110.70,325.20 L106.70,325.20 Z" fill="#fff" stroke="#ff2424" stroke-width="0.8"/>
<path d="M117.90,323.00 V329.00 M115.40,323.00 H120.40 M115.40,329.00 H120.40" stroke="#ff2424" stroke-width="0.7" fill="none"/>
<path d="M117.90,328.00 L119.90,324.40 L115.90,324.40 Z" fill="#fff" stroke="#ff2424" stroke-width="0.8"/>
<path d="M122.90,323.00 V329.00 M120.40,323.00 H125.40 M120.40,329.00 H125.40" stroke="#ff2424" stroke-width="0.7" fill="none"/>
<path d="M122.90,328.00 L124.90,324.40 L120.90,324.40 Z" fill="#fff" stroke="#ff2424" stroke-width="0.8"/>
<path d="M145.60,320.70 V326.70 M143.10,320.70 H148.10 M143.10,326.70 H148.10" stroke="#ff2424" stroke-width="0.7" fill="none"/>
<path d="M145.60,325.70 L147.60,322.10 L143.60,322.10 Z" fill="#fff" stroke="#ff2424" stroke-width="0.8"/>
<path d="M162.60,314.60 V320.60 M160.10,314.60 H165.10 M160.10,320.60 H165.10" stroke="#ff2424" stroke-width="0.7" fill="none"/>
<path d="M162.60,319.60 L164.60,316.00 L160.60,316.00 Z" fill="#fff" stroke="#ff2424" stroke-width="0.8"/>
<path d="M167.70,316.90 V322.90 M165.20,316.90 H170.20 M165.20,322.90 H170.20" stroke="#ff2424" stroke-width="0.7" fill="none"/>
<path d="M167.70,321.90 L169.70,318.30 L165.70,318.30 Z" fill="#fff" stroke="#ff2424" stroke-width="0.8"/>
<path d="M175.80,310.00 V316.00 M173.30,310.00 H178.30 M173.30,316.00 H178.30" stroke="#ff2424" stroke-width="0.7" fill="none"/>
<path d="M175.80,315.00 L177.80,311.40 L173.80,311.40 Z" fill="#fff" stroke="#ff2424" stroke-width="0.8"/>
<path d="M190.20,305.40 V311.40 M187.70,305.40 H192.70 M187.70,311.40 H192.70" stroke="#ff2424" stroke-width="0.7" fill="none"/>
<path d="M190.20,310.40 L192.20,306.80 L188.20,306.80 Z" fill="#fff" stroke="#ff2424" stroke-width="0.8"/>
<path d="M198.20,301.80 V307.80 M195.70,301.80 H200.70 M195.70,307.80 H200.70" stroke="#ff2424" stroke-width="0.7" fill="none"/>
<path d="M198.20,306.80 L200.20,303.20 L196.20,303.20 Z" fill="#fff" stroke="#ff2424" stroke-width="0.8"/>
<path d="M212.50,292.90 V298.90 M210.00,292.90 H215.00 M210.00,298.90 H215.00" stroke="#ff2424" stroke-width="0.7" fill="none"/>
<path d="M212.50,297.90 L214.50,294.30 L210.50,294.30 Z" fill="#fff" stroke="#ff2424" stroke-width="0.8"/>
<path d="M243.80,317.80 V323.80 M241.30,317.80 H246.30 M241.30,323.80 H246.30" stroke="#ff2424" stroke-width="0.7" fill="none"/>
<path d="M243.80,322.80 L245.80,319.20 L241.80,319.20 Z" fill="#fff" stroke="#ff2424" stroke-width="0.8"/>
<path d="M265.50,317.80 V323.80 M263.00,317.80 H268.00 M263.00,323.80 H268.00" stroke="#ff2424" stroke-width="0.7" fill="none"/>
<path d="M265.50,322.80 L267.50,319.20 L263.50,319.20 Z" fill="#fff" stroke="#ff2424" stroke-width="0.8"/>
<path d="M288.50,329.30 V335.30 M286.00,329.30 H291.00 M286.00,335.30 H291.00" stroke="#ff2424" stroke-width="0.7" fill="none"/>
<path d="M288.50,334.30 L290.50,330.70 L286.50,330.70 Z" fill="#fff" stroke="#ff2424" stroke-width="0.8"/>
<path d="M311.40,331.80 V337.80 M308.90,331.80 H313.90 M308.90,337.80 H313.90" stroke="#ff2424" stroke-width="0.7" fill="none"/>
<path d="M311.40,336.80 L313.40,333.20 L309.40,333.20 Z" fill="#fff" stroke="#ff2424" stroke-width="0.8"/>
<path d="M63.80,328.40 V335.60 M61.30,328.40 H66.30 M61.30,335.60 H66.30" stroke="#262626" stroke-width="0.7" fill="none"/>
<path d="M63.80,334.00 L65.80,330.40 L61.80,330.40 Z" fill="#fff" stroke="#262626" stroke-width="0.8"/>
<path d="M78.10,321.90 V329.10 M75.60,321.90 H80.60 M75.60,329.10 H80.60" stroke="#262626" stroke-width="0.7" fill="none"/>
<path d="M78.10,327.50 L80.10,323.90 L76.10,323.90 Z" fill="#fff" stroke="#262626" stroke-width="0.8"/>
<path d="M100.60,318.40 V325.60 M98.10,318.40 H103.10 M98.10,325.60 H103.10" stroke="#262626" stroke-width="0.7" fill="none"/>
<path d="M100.60,324.00 L102.60,320.40 L98.60,320.40 Z" fill="#fff" stroke="#262626" stroke-width="0.8"/>
<path d="M117.90,319.40 V326.60 M115.40,319.40 H120.40 M115.40,326.60 H120.40" stroke="#262626" stroke-width="0.7" fill="none"/>
<path d="M117.90,325.00 L119.90,321.40 L115.90,321.40 Z" fill="#fff" stroke="#262626" stroke-width="0.8"/>
<path d="M122.90,320.10 V327.30 M120.40,320.10 H125.40 M120.40,327.30 H125.40" stroke="#262626" stroke-width="0.7" fill="none"/>
<path d="M122.90,325.70 L124.90,322.10 L120.90,322.10 Z" fill="#fff" stroke="#262626" stroke-width="0.8"/>
<path d="M145.60,313.20 V320.40 M143.10,313.20 H148.10 M143.10,320.40 H148.10" stroke="#262626" stroke-width="0.7" fill="none"/>
<path d="M145.60,318.80 L147.60,315.20 L143.60,315.20 Z" fill="#fff" stroke="#262626" stroke-width="0.8"/>
<path d="M154.00,309.40 V316.60 M151.50,309.40 H156.50 M151.50,316.60 H156.50" stroke="#262626" stroke-width="0.7" fill="none"/>
<path d="M154.00,315.00 L156.00,311.40 L152.00,311.40 Z" fill="#fff" stroke="#262626" stroke-width="0.8"/>
<path d="M167.70,305.50 V312.70 M165.20,305.50 H170.20 M165.20,312.70 H170.20" stroke="#262626" stroke-width="0.7" fill="none"/>
<path d="M167.70,311.10 L169.70,307.50 L165.70,307.50 Z" fill="#fff" stroke="#262626" stroke-width="0.8"/>
<path d="M175.80,303.90 V311.10 M173.30,303.90 H178.30 M173.30,311.10 H178.30" stroke="#262626" stroke-width="0.7" fill="none"/>
<path d="M175.80,309.50 L177.80,305.90 L173.80,305.90 Z" fill="#fff" stroke="#262626" stroke-width="0.8"/>
<path d="M184.80,280.70 V287.90 M182.30,280.70 H187.30 M182.30,287.90 H187.30" stroke="#262626" stroke-width="0.7" fill="none"/>
<path d="M184.80,286.30 L186.80,282.70 L182.80,282.70 Z" fill="#fff" stroke="#262626" stroke-width="0.8"/>
<path d="M190.70,287.50 V294.70 M188.20,287.50 H193.20 M188.20,294.70 H193.20" stroke="#262626" stroke-width="0.7" fill="none"/>
<path d="M190.70,293.10 L192.70,289.50 L188.70,289.50 Z" fill="#fff" stroke="#262626" stroke-width="0.8"/>
<path d="M194.60,303.90 V311.10 M192.10,303.90 H197.10 M192.10,311.10 H197.10" stroke="#262626" stroke-width="0.7" fill="none"/>
<path d="M194.60,309.50 L196.60,305.90 L192.60,305.90 Z" fill="#fff" stroke="#262626" stroke-width="0.8"/>
<path d="M198.20,302.10 V309.30 M195.70,302.10 H200.70 M195.70,309.30 H200.70" stroke="#262626" stroke-width="0.7" fill="none"/>
<path d="M198.20,307.70 L200.20,304.10 L196.20,304.10 Z" fill="#fff" stroke="#262626" stroke-width="0.8"/>
<path d="M207.10,296.80 V304.00 M204.60,296.80 H209.60 M204.60,304.00 H209.60" stroke="#262626" stroke-width="0.7" fill="none"/>
<path d="M207.10,302.40 L209.10,298.80 L205.10,298.80 Z" fill="#fff" stroke="#262626" stroke-width="0.8"/>
<path d="M217.00,320.00 V327.20 M214.50,320.00 H219.50 M214.50,327.20 H219.50" stroke="#262626" stroke-width="0.7" fill="none"/>
<path d="M217.00,325.60 L219.00,322.00 L215.00,322.00 Z" fill="#fff" stroke="#262626" stroke-width="0.8"/>
<path d="M222.30,314.60 V321.80 M219.80,314.60 H224.80 M219.80,321.80 H224.80" stroke="#262626" stroke-width="0.7" fill="none"/>
<path d="M222.30,320.20 L224.30,316.60 L220.30,316.60 Z" fill="#fff" stroke="#262626" stroke-width="0.8"/>
<path d="M225.90,318.20 V325.40 M223.40,318.20 H228.40 M223.40,325.40 H228.40" stroke="#262626" stroke-width="0.7" fill="none"/>
<path d="M225.90,323.80 L227.90,320.20 L223.90,320.20 Z" fill="#fff" stroke="#262626" stroke-width="0.8"/>
<path d="M229.50,318.20 V325.40 M227.00,318.20 H232.00 M227.00,325.40 H232.00" stroke="#262626" stroke-width="0.7" fill="none"/>
<path d="M229.50,323.80 L231.50,320.20 L227.50,320.20 Z" fill="#fff" stroke="#262626" stroke-width="0.8"/>
<path d="M234.80,318.20 V325.40 M232.30,318.20 H237.30 M232.30,325.40 H237.30" stroke="#262626" stroke-width="0.7" fill="none"/>
<path d="M234.80,323.80 L236.80,320.20 L232.80,320.20 Z" fill="#fff" stroke="#262626" stroke-width="0.8"/>
<path d="M243.80,321.00 V328.20 M241.30,321.00 H246.30 M241.30,328.20 H246.30" stroke="#262626" stroke-width="0.7" fill="none"/>
<path d="M243.80,326.60 L245.80,323.00 L241.80,323.00 Z" fill="#fff" stroke="#262626" stroke-width="0.8"/>
<path d="M265.50,327.40 V334.60 M263.00,327.40 H268.00 M263.00,334.60 H268.00" stroke="#262626" stroke-width="0.7" fill="none"/>
<path d="M265.50,333.00 L267.50,329.40 L263.50,329.40 Z" fill="#fff" stroke="#262626" stroke-width="0.8"/>
<path d="M277.00,326.10 V333.30 M274.50,326.10 H279.50 M274.50,333.30 H279.50" stroke="#262626" stroke-width="0.7" fill="none"/>
<path d="M277.00,331.70 L279.00,328.10 L275.00,328.10 Z" fill="#fff" stroke="#262626" stroke-width="0.8"/>
<path d="M288.50,330.50 V337.70 M286.00,330.50 H291.00 M286.00,337.70 H291.00" stroke="#262626" stroke-width="0.7" fill="none"/>
<path d="M288.50,336.10 L290.50,332.50 L286.50,332.50 Z" fill="#fff" stroke="#262626" stroke-width="0.8"/>
<path d="M311.40,333.80 V341.00 M308.90,333.80 H313.90 M308.90,341.00 H313.90" stroke="#262626" stroke-width="0.7" fill="none"/>
<path d="M311.40,339.40 L313.40,335.80 L309.40,335.80 Z" fill="#fff" stroke="#262626" stroke-width="0.8"/>
<path d="M333.10,336.40 V343.60 M330.60,336.40 H335.60 M330.60,343.60 H335.60" stroke="#262626" stroke-width="0.7" fill="none"/>
<path d="M333.10,342.00 L335.10,338.40 L331.10,338.40 Z" fill="#fff" stroke="#262626" stroke-width="0.8"/>
<path d="M192.80,223.10 L194.70,219.68 L190.90,219.68 Z" fill="#fff" stroke="#262626" stroke-width="0.9"/>
<text x="201.00" y="222.80" font-size="8.4" fill="#222"><tspan font-style="italic">c</tspan><tspan font-size="5.35" dy="3">p,CO2,10MPa</tspan></text>
<rect x="265.40" y="219.50" width="3.4" height="3.4" fill="#fff" stroke="#262626" stroke-width="0.9"/>
<text x="275.50" y="222.80" font-size="8.4" fill="#222"><tspan font-style="italic">w</tspan><tspan font-size="5.35" dy="3">CO2,10MPa</tspan></text>
<path d="M192.80,234.80 L194.70,231.38 L190.90,231.38 Z" fill="#fff" stroke="#ff2424" stroke-width="0.9"/>
<text x="201.00" y="234.50" font-size="8.4" fill="#222"><tspan font-style="italic">c</tspan><tspan font-size="5.35" dy="3">p,CO2+C6H6,10MPa</tspan></text>
<rect x="265.40" y="231.20" width="3.4" height="3.4" fill="#fff" stroke="#ff2424" stroke-width="0.9"/>
<text x="275.50" y="234.50" font-size="8.4" fill="#222"><tspan font-style="italic">w</tspan><tspan font-size="5.35" dy="3">CO2+C6H6,10MPa</tspan></text>
<path d="M192.80,246.60 L194.70,243.18 L190.90,243.18 Z" fill="#fff" stroke="#2828ff" stroke-width="0.9"/>
<text x="201.00" y="246.30" font-size="8.4" fill="#222"><tspan font-style="italic">c</tspan><tspan font-size="5.35" dy="3">p,CO2,12MPa</tspan></text>
<rect x="265.40" y="243.00" width="3.4" height="3.4" fill="#fff" stroke="#2828ff" stroke-width="0.9"/>
<text x="275.50" y="246.30" font-size="8.4" fill="#222"><tspan font-style="italic">w</tspan><tspan font-size="5.35" dy="3">CO2,12MPa</tspan></text>
<path d="M192.80,258.40 L194.70,254.98 L190.90,254.98 Z" fill="#fff" stroke="#22e622" stroke-width="0.9"/>
<text x="201.00" y="258.10" font-size="8.4" fill="#222"><tspan font-style="italic">c</tspan><tspan font-size="5.35" dy="3">p,CO2+C6H6,12MPa</tspan></text>
<rect x="265.40" y="254.80" width="3.4" height="3.4" fill="#fff" stroke="#22e622" stroke-width="0.9"/>
<text x="275.50" y="258.10" font-size="8.4" fill="#222"><tspan font-style="italic">w</tspan><tspan font-size="5.35" dy="3">CO2+C6H6,12MPa</tspan></text>
<line x1="185.2" y1="400.3" x2="185.2" y2="481.5" stroke="#262626" stroke-width="1.1" stroke-dasharray="1.1,1.6"/>
<line x1="185.2" y1="539" x2="185.2" y2="595" stroke="#262626" stroke-width="1.1" stroke-dasharray="1.1,1.6"/>
<line x1="212.7" y1="400.3" x2="212.7" y2="481.5" stroke="#ff2424" stroke-width="1.1" stroke-dasharray="1.1,1.6"/>
<line x1="212.7" y1="539" x2="212.7" y2="595" stroke="#ff2424" stroke-width="1.1" stroke-dasharray="1.1,1.6"/>
<line x1="229.8" y1="400.3" x2="229.8" y2="481.5" stroke="#2828ff" stroke-width="1.1" stroke-dasharray="1.1,1.6"/>
<line x1="229.8" y1="539" x2="229.8" y2="595" stroke="#2828ff" stroke-width="1.1" stroke-dasharray="1.1,1.6"/>
<line x1="243.5" y1="400.3" x2="243.5" y2="481.5" stroke="#22e622" stroke-width="1.1" stroke-dasharray="1.1,1.6"/>
<line x1="243.5" y1="539" x2="243.5" y2="595" stroke="#22e622" stroke-width="1.1" stroke-dasharray="1.1,1.6"/>
<path d="M63.50,483.60 C69.58,482.75 89.42,480.18 100.00,478.50 C110.58,476.82 119.85,475.48 127.00,473.50 C134.15,471.52 137.28,468.78 142.90,466.60 C148.52,464.42 154.75,462.78 160.70,460.40 C166.65,458.02 174.55,454.27 178.60,452.30 C182.65,450.33 182.15,449.28 185.00,448.60 C187.85,447.92 192.13,447.90 195.70,448.20 C199.27,448.50 202.83,449.45 206.40,450.40 C209.97,451.35 213.23,452.57 217.10,453.90 C220.97,455.23 225.43,457.20 229.60,458.40 C233.77,459.60 238.70,460.12 242.10,461.10 C245.50,462.08 244.87,463.07 250.00,464.30 C255.13,465.53 265.25,467.27 272.90,468.50 C280.55,469.73 288.25,470.67 295.90,471.70 C303.55,472.73 312.53,473.82 318.80,474.70 C325.07,475.58 331.05,476.62 333.50,477.00" fill="none" stroke="#262626" stroke-width="1.15" stroke-dasharray="4.5,2.3"/>
<path d="M63.50,484.50 C69.58,483.92 89.42,482.25 100.00,481.00 C110.58,479.75 119.85,478.35 127.00,477.00 C134.15,475.65 137.28,474.48 142.90,472.90 C148.52,471.32 154.75,469.73 160.70,467.50 C166.65,465.27 174.55,461.32 178.60,459.50 C182.65,457.68 181.55,457.68 185.00,456.60 C188.45,455.52 194.83,453.75 199.30,453.00 C203.77,452.25 207.63,451.80 211.80,452.10 C215.97,452.40 219.83,453.75 224.30,454.80 C228.77,455.85 234.32,457.17 238.60,458.40 C242.88,459.63 244.28,460.90 250.00,462.20 C255.72,463.50 265.25,465.00 272.90,466.20 C280.55,467.40 288.25,468.37 295.90,469.40 C303.55,470.43 312.53,471.63 318.80,472.40 C325.07,473.17 331.05,473.73 333.50,474.00" fill="none" stroke="#ff2424" stroke-width="1.15" stroke-dasharray="4.5,2.3"/>
<path d="M63.50,485.50 C69.58,484.92 89.42,483.00 100.00,482.00 C110.58,481.00 119.85,480.37 127.00,479.50 C134.15,478.63 137.28,477.90 142.90,476.80 C148.52,475.70 154.75,474.30 160.70,472.90 C166.65,471.50 174.55,469.33 178.60,468.40 C182.65,467.47 181.55,468.07 185.00,467.30 C188.45,466.53 194.83,464.98 199.30,463.80 C203.77,462.62 207.63,461.10 211.80,460.20 C215.97,459.30 219.83,458.85 224.30,458.40 C228.77,457.95 234.32,457.23 238.60,457.50 C242.88,457.77 244.28,458.92 250.00,460.00 C255.72,461.08 265.25,462.80 272.90,464.00 C280.55,465.20 288.25,466.18 295.90,467.20 C303.55,468.22 312.53,469.35 318.80,470.10 C325.07,470.85 331.05,471.43 333.50,471.70" fill="none" stroke="#2828ff" stroke-width="1.15" stroke-dasharray="4.5,2.3"/>
<path d="M63.50,486.30 C69.58,485.83 89.42,484.35 100.00,483.50 C110.58,482.65 119.85,482.08 127.00,481.20 C134.15,480.32 137.28,479.23 142.90,478.20 C148.52,477.17 154.75,476.18 160.70,475.00 C166.65,473.82 174.55,472.08 178.60,471.10 C182.65,470.12 181.55,469.88 185.00,469.10 C188.45,468.32 194.83,467.43 199.30,466.40 C203.77,465.37 207.63,463.93 211.80,462.90 C215.97,461.87 219.83,460.95 224.30,460.20 C228.77,459.45 234.32,458.60 238.60,458.40 C242.88,458.20 244.28,458.38 250.00,459.00 C255.72,459.62 265.25,461.20 272.90,462.10 C280.55,463.00 288.25,463.45 295.90,464.40 C303.55,465.35 312.53,466.85 318.80,467.80 C325.07,468.75 331.05,469.72 333.50,470.10" fill="none" stroke="#22e622" stroke-width="1.15" stroke-dasharray="4.5,2.3"/>
<path d="M63.50,595.00 C69.58,594.95 87.25,594.87 100.00,594.70 C112.75,594.53 128.23,594.25 140.00,594.00 C151.77,593.75 162.95,593.58 170.60,593.20 C178.25,592.82 181.83,592.15 185.90,591.70 C189.97,591.25 190.93,591.02 195.00,590.50 C199.07,589.98 205.20,589.30 210.30,588.60 C215.40,587.90 220.48,587.07 225.60,586.30 C230.72,585.53 236.10,584.72 241.00,584.00 C245.90,583.28 249.68,582.32 255.00,582.00 C260.32,581.68 266.08,582.02 272.90,582.10 C279.72,582.18 285.80,582.35 295.90,582.50 C306.00,582.65 327.23,582.92 333.50,583.00" fill="none" stroke="#22e622" stroke-width="1.15"/>
<path d="M63.50,594.70 C69.58,594.63 87.25,594.55 100.00,594.30 C112.75,594.05 128.23,593.75 140.00,593.20 C151.77,592.65 162.95,591.60 170.60,591.00 C178.25,590.40 181.83,589.97 185.90,589.60 C189.97,589.23 190.93,589.15 195.00,588.80 C199.07,588.45 205.20,588.30 210.30,587.50 C215.40,586.70 220.48,584.95 225.60,584.00 C230.72,583.05 236.10,582.38 241.00,581.80 C245.90,581.22 249.68,580.63 255.00,580.50 C260.32,580.37 266.08,580.70 272.90,581.00 C279.72,581.30 285.80,581.97 295.90,582.30 C306.00,582.63 327.23,582.88 333.50,583.00" fill="none" stroke="#2828ff" stroke-width="1.15"/>
<path d="M63.50,594.50 C69.58,594.42 87.25,594.47 100.00,594.00 C112.75,593.53 130.78,592.33 140.00,591.70 C149.22,591.07 150.20,590.97 155.30,590.20 C160.40,589.43 166.00,588.38 170.60,587.10 C175.20,585.82 178.83,583.90 182.90,582.50 C186.97,581.10 191.70,580.10 195.00,578.70 C198.30,577.30 199.63,575.25 202.70,574.10 C205.77,572.95 209.58,572.05 213.40,571.80 C217.22,571.55 221.00,572.08 225.60,572.60 C230.20,573.12 236.10,574.17 241.00,574.90 C245.90,575.63 249.68,576.30 255.00,577.00 C260.32,577.70 266.08,578.48 272.90,579.10 C279.72,579.72 288.25,580.20 295.90,580.70 C303.55,581.20 312.53,581.80 318.80,582.10 C325.07,582.40 331.05,582.43 333.50,582.50" fill="none" stroke="#ff2424" stroke-width="1.15"/>
<path d="M63.50,594.50 C69.58,594.42 87.25,594.60 100.00,594.00 C112.75,593.40 130.78,591.67 140.00,590.90 C149.22,590.13 150.20,590.42 155.30,589.40 C160.40,588.38 166.52,586.45 170.60,584.80 C174.68,583.15 177.25,581.28 179.80,579.50 C182.35,577.72 183.60,575.77 185.90,574.10 C188.20,572.43 190.80,570.40 193.60,569.50 C196.40,568.60 199.92,568.70 202.70,568.70 C205.48,568.70 207.50,568.98 210.30,569.50 C213.10,570.02 215.67,571.03 219.50,571.80 C223.33,572.57 228.97,573.33 233.30,574.10 C237.63,574.87 241.88,575.75 245.50,576.40 C249.12,577.05 250.43,577.28 255.00,578.00 C259.57,578.72 266.08,580.02 272.90,580.70 C279.72,581.38 285.80,581.72 295.90,582.10 C306.00,582.48 327.23,582.85 333.50,583.00" fill="none" stroke="#262626" stroke-width="1.15"/>
<path d="M63.80,480.20 V488.80 M61.50,480.20 H66.10 M61.50,488.80 H66.10" stroke="#262626" stroke-width="0.7" fill="none"/>
<circle cx="63.80" cy="484.50" r="1.7" fill="#fff" stroke="#262626" stroke-width="0.8"/>
<path d="M77.90,474.80 V483.40 M75.60,474.80 H80.20 M75.60,483.40 H80.20" stroke="#262626" stroke-width="0.7" fill="none"/>
<circle cx="77.90" cy="479.10" r="1.7" fill="#fff" stroke="#262626" stroke-width="0.8"/>
<path d="M86.30,477.50 V486.10 M84.00,477.50 H88.60 M84.00,486.10 H88.60" stroke="#262626" stroke-width="0.7" fill="none"/>
<circle cx="86.30" cy="481.80" r="1.7" fill="#fff" stroke="#262626" stroke-width="0.8"/>
<path d="M100.60,469.50 V478.10 M98.30,469.50 H102.90 M98.30,478.10 H102.90" stroke="#262626" stroke-width="0.7" fill="none"/>
<circle cx="100.60" cy="473.80" r="1.7" fill="#fff" stroke="#262626" stroke-width="0.8"/>
<path d="M108.70,473.00 V481.60 M106.40,473.00 H111.00 M106.40,481.60 H111.00" stroke="#262626" stroke-width="0.7" fill="none"/>
<circle cx="108.70" cy="477.30" r="1.7" fill="#fff" stroke="#262626" stroke-width="0.8"/>
<path d="M117.90,469.50 V478.10 M115.60,469.50 H120.20 M115.60,478.10 H120.20" stroke="#262626" stroke-width="0.7" fill="none"/>
<circle cx="117.90" cy="473.80" r="1.7" fill="#fff" stroke="#262626" stroke-width="0.8"/>
<path d="M122.90,468.60 V477.20 M120.60,468.60 H125.20 M120.60,477.20 H125.20" stroke="#262626" stroke-width="0.7" fill="none"/>
<circle cx="122.90" cy="472.90" r="1.7" fill="#fff" stroke="#262626" stroke-width="0.8"/>
<path d="M145.60,460.50 V469.10 M143.30,460.50 H147.90 M143.30,469.10 H147.90" stroke="#262626" stroke-width="0.7" fill="none"/>
<circle cx="145.60" cy="464.80" r="1.7" fill="#fff" stroke="#262626" stroke-width="0.8"/>
<path d="M154.00,459.60 V468.20 M151.70,459.60 H156.30 M151.70,468.20 H156.30" stroke="#262626" stroke-width="0.7" fill="none"/>
<circle cx="154.00" cy="463.90" r="1.7" fill="#fff" stroke="#262626" stroke-width="0.8"/>
<path d="M162.60,460.50 V469.10 M160.30,460.50 H164.90 M160.30,469.10 H164.90" stroke="#262626" stroke-width="0.7" fill="none"/>
<circle cx="162.60" cy="464.80" r="1.7" fill="#fff" stroke="#262626" stroke-width="0.8"/>
<path d="M167.70,455.20 V463.80 M165.40,455.20 H170.00 M165.40,463.80 H170.00" stroke="#262626" stroke-width="0.7" fill="none"/>
<circle cx="167.70" cy="459.50" r="1.7" fill="#fff" stroke="#262626" stroke-width="0.8"/>
<path d="M175.80,453.40 V462.00 M173.50,453.40 H178.10 M173.50,462.00 H178.10" stroke="#262626" stroke-width="0.7" fill="none"/>
<circle cx="175.80" cy="457.70" r="1.7" fill="#fff" stroke="#262626" stroke-width="0.8"/>
<path d="M185.90,434.50 V443.10 M183.60,434.50 H188.20 M183.60,443.10 H188.20" stroke="#262626" stroke-width="0.7" fill="none"/>
<circle cx="185.90" cy="438.80" r="1.7" fill="#fff" stroke="#262626" stroke-width="0.8"/>
<path d="M190.40,438.00 V446.60 M188.10,438.00 H192.70 M188.10,446.60 H192.70" stroke="#262626" stroke-width="0.7" fill="none"/>
<circle cx="190.40" cy="442.30" r="1.7" fill="#fff" stroke="#262626" stroke-width="0.8"/>
<path d="M193.90,450.50 V459.10 M191.60,450.50 H196.20 M191.60,459.10 H196.20" stroke="#262626" stroke-width="0.7" fill="none"/>
<circle cx="193.90" cy="454.80" r="1.7" fill="#fff" stroke="#262626" stroke-width="0.8"/>
<path d="M202.90,448.70 V457.30 M200.60,448.70 H205.20 M200.60,457.30 H205.20" stroke="#262626" stroke-width="0.7" fill="none"/>
<circle cx="202.90" cy="453.00" r="1.7" fill="#fff" stroke="#262626" stroke-width="0.8"/>
<path d="M207.30,447.00 V455.60 M205.00,447.00 H209.60 M205.00,455.60 H209.60" stroke="#262626" stroke-width="0.7" fill="none"/>
<circle cx="207.30" cy="451.30" r="1.7" fill="#fff" stroke="#262626" stroke-width="0.8"/>
<path d="M216.30,463.00 V471.60 M214.00,463.00 H218.60 M214.00,471.60 H218.60" stroke="#262626" stroke-width="0.7" fill="none"/>
<circle cx="216.30" cy="467.30" r="1.7" fill="#fff" stroke="#262626" stroke-width="0.8"/>
<path d="M226.10,458.60 V467.20 M223.80,458.60 H228.40 M223.80,467.20 H228.40" stroke="#262626" stroke-width="0.7" fill="none"/>
<circle cx="226.10" cy="462.90" r="1.7" fill="#fff" stroke="#262626" stroke-width="0.8"/>
<path d="M232.30,458.60 V467.20 M230.00,458.60 H234.60 M230.00,467.20 H234.60" stroke="#262626" stroke-width="0.7" fill="none"/>
<circle cx="232.30" cy="462.90" r="1.7" fill="#fff" stroke="#262626" stroke-width="0.8"/>
<path d="M236.80,459.50 V468.10 M234.50,459.50 H239.10 M234.50,468.10 H239.10" stroke="#262626" stroke-width="0.7" fill="none"/>
<circle cx="236.80" cy="463.80" r="1.7" fill="#fff" stroke="#262626" stroke-width="0.8"/>
<path d="M243.00,461.20 V469.80 M240.70,461.20 H245.30 M240.70,469.80 H245.30" stroke="#262626" stroke-width="0.7" fill="none"/>
<circle cx="243.00" cy="465.50" r="1.7" fill="#fff" stroke="#262626" stroke-width="0.8"/>
<path d="M264.90,467.00 V475.60 M262.60,467.00 H267.20 M262.60,475.60 H267.20" stroke="#262626" stroke-width="0.7" fill="none"/>
<circle cx="264.90" cy="471.30" r="1.7" fill="#fff" stroke="#262626" stroke-width="0.8"/>
<path d="M287.80,470.40 V479.00 M285.50,470.40 H290.10 M285.50,479.00 H290.10" stroke="#262626" stroke-width="0.7" fill="none"/>
<circle cx="287.80" cy="474.70" r="1.7" fill="#fff" stroke="#262626" stroke-width="0.8"/>
<path d="M310.80,471.60 V480.20 M308.50,471.60 H313.10 M308.50,480.20 H313.10" stroke="#262626" stroke-width="0.7" fill="none"/>
<circle cx="310.80" cy="475.90" r="1.7" fill="#fff" stroke="#262626" stroke-width="0.8"/>
<path d="M333.50,472.70 V481.30 M331.20,472.70 H335.80 M331.20,481.30 H335.80" stroke="#262626" stroke-width="0.7" fill="none"/>
<circle cx="333.50" cy="477.00" r="1.7" fill="#fff" stroke="#262626" stroke-width="0.8"/>
<path d="M77.90,478.70 V484.30 M75.60,478.70 H80.20 M75.60,484.30 H80.20" stroke="#ff2424" stroke-width="0.7" fill="none"/>
<circle cx="77.90" cy="481.50" r="1.7" fill="#fff" stroke="#ff2424" stroke-width="0.8"/>
<path d="M86.30,479.70 V485.30 M84.00,479.70 H88.60 M84.00,485.30 H88.60" stroke="#ff2424" stroke-width="0.7" fill="none"/>
<circle cx="86.30" cy="482.50" r="1.7" fill="#fff" stroke="#ff2424" stroke-width="0.8"/>
<path d="M100.60,476.30 V481.90 M98.30,476.30 H102.90 M98.30,481.90 H102.90" stroke="#ff2424" stroke-width="0.7" fill="none"/>
<circle cx="100.60" cy="479.10" r="1.7" fill="#fff" stroke="#ff2424" stroke-width="0.8"/>
<path d="M108.70,476.30 V481.90 M106.40,476.30 H111.00 M106.40,481.90 H111.00" stroke="#ff2424" stroke-width="0.7" fill="none"/>
<circle cx="108.70" cy="479.10" r="1.7" fill="#fff" stroke="#ff2424" stroke-width="0.8"/>
<path d="M117.90,472.70 V478.30 M115.60,472.70 H120.20 M115.60,478.30 H120.20" stroke="#ff2424" stroke-width="0.7" fill="none"/>
<circle cx="117.90" cy="475.50" r="1.7" fill="#fff" stroke="#ff2424" stroke-width="0.8"/>
<path d="M122.90,473.60 V479.20 M120.60,473.60 H125.20 M120.60,479.20 H125.20" stroke="#ff2424" stroke-width="0.7" fill="none"/>
<circle cx="122.90" cy="476.40" r="1.7" fill="#fff" stroke="#ff2424" stroke-width="0.8"/>
<path d="M131.20,474.50 V480.10 M128.90,474.50 H133.50 M128.90,480.10 H133.50" stroke="#ff2424" stroke-width="0.7" fill="none"/>
<circle cx="131.20" cy="477.30" r="1.7" fill="#fff" stroke="#ff2424" stroke-width="0.8"/>
<path d="M145.60,470.10 V475.70 M143.30,470.10 H147.90 M143.30,475.70 H147.90" stroke="#ff2424" stroke-width="0.7" fill="none"/>
<circle cx="145.60" cy="472.90" r="1.7" fill="#fff" stroke="#ff2424" stroke-width="0.8"/>
<path d="M154.00,467.40 V473.00 M151.70,467.40 H156.30 M151.70,473.00 H156.30" stroke="#ff2424" stroke-width="0.7" fill="none"/>
<circle cx="154.00" cy="470.20" r="1.7" fill="#fff" stroke="#ff2424" stroke-width="0.8"/>
<path d="M162.60,465.60 V471.20 M160.30,465.60 H164.90 M160.30,471.20 H164.90" stroke="#ff2424" stroke-width="0.7" fill="none"/>
<circle cx="162.60" cy="468.40" r="1.7" fill="#fff" stroke="#ff2424" stroke-width="0.8"/>
<path d="M175.80,462.00 V467.60 M173.50,462.00 H178.10 M173.50,467.60 H178.10" stroke="#ff2424" stroke-width="0.7" fill="none"/>
<circle cx="175.80" cy="464.80" r="1.7" fill="#fff" stroke="#ff2424" stroke-width="0.8"/>
<path d="M190.40,455.60 V461.20 M188.10,455.60 H192.70 M188.10,461.20 H192.70" stroke="#ff2424" stroke-width="0.7" fill="none"/>
<circle cx="190.40" cy="458.40" r="1.7" fill="#fff" stroke="#ff2424" stroke-width="0.8"/>
<path d="M198.40,452.90 V458.50 M196.10,452.90 H200.70 M196.10,458.50 H200.70" stroke="#ff2424" stroke-width="0.7" fill="none"/>
<circle cx="198.40" cy="455.70" r="1.7" fill="#fff" stroke="#ff2424" stroke-width="0.8"/>
<path d="M212.70,444.00 V449.60 M210.40,444.00 H215.00 M210.40,449.60 H215.00" stroke="#ff2424" stroke-width="0.7" fill="none"/>
<circle cx="212.70" cy="446.80" r="1.7" fill="#fff" stroke="#ff2424" stroke-width="0.8"/>
<path d="M235.00,450.20 V455.80 M232.70,450.20 H237.30 M232.70,455.80 H237.30" stroke="#ff2424" stroke-width="0.7" fill="none"/>
<circle cx="235.00" cy="453.00" r="1.7" fill="#fff" stroke="#ff2424" stroke-width="0.8"/>
<path d="M242.10,455.60 V461.20 M239.80,455.60 H244.40 M239.80,461.20 H244.40" stroke="#ff2424" stroke-width="0.7" fill="none"/>
<circle cx="242.10" cy="458.40" r="1.7" fill="#fff" stroke="#ff2424" stroke-width="0.8"/>
<path d="M264.90,461.60 V467.20 M262.60,461.60 H267.20 M262.60,467.20 H267.20" stroke="#ff2424" stroke-width="0.7" fill="none"/>
<circle cx="264.90" cy="464.40" r="1.7" fill="#fff" stroke="#ff2424" stroke-width="0.8"/>
<path d="M287.80,467.30 V472.90 M285.50,467.30 H290.10 M285.50,472.90 H290.10" stroke="#ff2424" stroke-width="0.7" fill="none"/>
<circle cx="287.80" cy="470.10" r="1.7" fill="#fff" stroke="#ff2424" stroke-width="0.8"/>
<path d="M310.80,469.60 V475.20 M308.50,469.60 H313.10 M308.50,475.20 H313.10" stroke="#ff2424" stroke-width="0.7" fill="none"/>
<circle cx="310.80" cy="472.40" r="1.7" fill="#fff" stroke="#ff2424" stroke-width="0.8"/>
<path d="M77.90,480.80 V486.40 M75.60,480.80 H80.20 M75.60,486.40 H80.20" stroke="#2828ff" stroke-width="0.7" fill="none"/>
<circle cx="77.90" cy="483.60" r="1.7" fill="#fff" stroke="#2828ff" stroke-width="0.8"/>
<path d="M86.30,479.90 V485.50 M84.00,479.90 H88.60 M84.00,485.50 H88.60" stroke="#2828ff" stroke-width="0.7" fill="none"/>
<circle cx="86.30" cy="482.70" r="1.7" fill="#fff" stroke="#2828ff" stroke-width="0.8"/>
<path d="M100.60,478.10 V483.70 M98.30,478.10 H102.90 M98.30,483.70 H102.90" stroke="#2828ff" stroke-width="0.7" fill="none"/>
<circle cx="100.60" cy="480.90" r="1.7" fill="#fff" stroke="#2828ff" stroke-width="0.8"/>
<path d="M117.90,476.30 V481.90 M115.60,476.30 H120.20 M115.60,481.90 H120.20" stroke="#2828ff" stroke-width="0.7" fill="none"/>
<circle cx="117.90" cy="479.10" r="1.7" fill="#fff" stroke="#2828ff" stroke-width="0.8"/>
<path d="M122.90,477.20 V482.80 M120.60,477.20 H125.20 M120.60,482.80 H125.20" stroke="#2828ff" stroke-width="0.7" fill="none"/>
<circle cx="122.90" cy="480.00" r="1.7" fill="#fff" stroke="#2828ff" stroke-width="0.8"/>
<path d="M145.60,467.40 V473.00 M143.30,467.40 H147.90 M143.30,473.00 H147.90" stroke="#2828ff" stroke-width="0.7" fill="none"/>
<circle cx="145.60" cy="470.20" r="1.7" fill="#fff" stroke="#2828ff" stroke-width="0.8"/>
<path d="M154.00,470.10 V475.70 M151.70,470.10 H156.30 M151.70,475.70 H156.30" stroke="#2828ff" stroke-width="0.7" fill="none"/>
<circle cx="154.00" cy="472.90" r="1.7" fill="#fff" stroke="#2828ff" stroke-width="0.8"/>
<path d="M162.60,469.20 V474.80 M160.30,469.20 H164.90 M160.30,474.80 H164.90" stroke="#2828ff" stroke-width="0.7" fill="none"/>
<circle cx="162.60" cy="472.00" r="1.7" fill="#fff" stroke="#2828ff" stroke-width="0.8"/>
<path d="M167.70,464.70 V470.30 M165.40,464.70 H170.00 M165.40,470.30 H170.00" stroke="#2828ff" stroke-width="0.7" fill="none"/>
<circle cx="167.70" cy="467.50" r="1.7" fill="#fff" stroke="#2828ff" stroke-width="0.8"/>
<path d="M175.80,466.50 V472.10 M173.50,466.50 H178.10 M173.50,472.10 H178.10" stroke="#2828ff" stroke-width="0.7" fill="none"/>
<circle cx="175.80" cy="469.30" r="1.7" fill="#fff" stroke="#2828ff" stroke-width="0.8"/>
<path d="M190.40,465.10 V470.70 M188.10,465.10 H192.70 M188.10,470.70 H192.70" stroke="#2828ff" stroke-width="0.7" fill="none"/>
<circle cx="190.40" cy="467.90" r="1.7" fill="#fff" stroke="#2828ff" stroke-width="0.8"/>
<path d="M202.90,466.30 V471.90 M200.60,466.30 H205.20 M200.60,471.90 H205.20" stroke="#2828ff" stroke-width="0.7" fill="none"/>
<circle cx="202.90" cy="469.10" r="1.7" fill="#fff" stroke="#2828ff" stroke-width="0.8"/>
<path d="M212.70,460.10 V465.70 M210.40,460.10 H215.00 M210.40,465.70 H215.00" stroke="#2828ff" stroke-width="0.7" fill="none"/>
<circle cx="212.70" cy="462.90" r="1.7" fill="#fff" stroke="#2828ff" stroke-width="0.8"/>
<path d="M229.60,450.20 V455.80 M227.30,450.20 H231.90 M227.30,455.80 H231.90" stroke="#2828ff" stroke-width="0.7" fill="none"/>
<circle cx="229.60" cy="453.00" r="1.7" fill="#fff" stroke="#2828ff" stroke-width="0.8"/>
<path d="M242.10,452.00 V457.60 M239.80,452.00 H244.40 M239.80,457.60 H244.40" stroke="#2828ff" stroke-width="0.7" fill="none"/>
<circle cx="242.10" cy="454.80" r="1.7" fill="#fff" stroke="#2828ff" stroke-width="0.8"/>
<path d="M247.50,454.70 V460.30 M245.20,454.70 H249.80 M245.20,460.30 H249.80" stroke="#2828ff" stroke-width="0.7" fill="none"/>
<circle cx="247.50" cy="457.50" r="1.7" fill="#fff" stroke="#2828ff" stroke-width="0.8"/>
<path d="M252.30,458.20 V463.80 M250.00,458.20 H254.60 M250.00,463.80 H254.60" stroke="#2828ff" stroke-width="0.7" fill="none"/>
<circle cx="252.30" cy="461.00" r="1.7" fill="#fff" stroke="#2828ff" stroke-width="0.8"/>
<path d="M260.30,457.00 V462.60 M258.00,457.00 H262.60 M258.00,462.60 H262.60" stroke="#2828ff" stroke-width="0.7" fill="none"/>
<circle cx="260.30" cy="459.80" r="1.7" fill="#fff" stroke="#2828ff" stroke-width="0.8"/>
<path d="M269.50,459.30 V464.90 M267.20,459.30 H271.80 M267.20,464.90 H271.80" stroke="#2828ff" stroke-width="0.7" fill="none"/>
<circle cx="269.50" cy="462.10" r="1.7" fill="#fff" stroke="#2828ff" stroke-width="0.8"/>
<path d="M277.50,469.60 V475.20 M275.20,469.60 H279.80 M275.20,475.20 H279.80" stroke="#2828ff" stroke-width="0.7" fill="none"/>
<circle cx="277.50" cy="472.40" r="1.7" fill="#fff" stroke="#2828ff" stroke-width="0.8"/>
<path d="M287.80,465.70 V471.30 M285.50,465.70 H290.10 M285.50,471.30 H290.10" stroke="#2828ff" stroke-width="0.7" fill="none"/>
<circle cx="287.80" cy="468.50" r="1.7" fill="#fff" stroke="#2828ff" stroke-width="0.8"/>
<path d="M310.80,468.50 V474.10 M308.50,468.50 H313.10 M308.50,474.10 H313.10" stroke="#2828ff" stroke-width="0.7" fill="none"/>
<circle cx="310.80" cy="471.30" r="1.7" fill="#fff" stroke="#2828ff" stroke-width="0.8"/>
<path d="M77.90,485.20 V490.80 M75.60,485.20 H80.20 M75.60,490.80 H80.20" stroke="#22e622" stroke-width="0.7" fill="none"/>
<circle cx="77.90" cy="488.00" r="1.7" fill="#fff" stroke="#22e622" stroke-width="0.8"/>
<path d="M86.30,482.60 V488.20 M84.00,482.60 H88.60 M84.00,488.20 H88.60" stroke="#22e622" stroke-width="0.7" fill="none"/>
<circle cx="86.30" cy="485.40" r="1.7" fill="#fff" stroke="#22e622" stroke-width="0.8"/>
<path d="M100.60,480.80 V486.40 M98.30,480.80 H102.90 M98.30,486.40 H102.90" stroke="#22e622" stroke-width="0.7" fill="none"/>
<circle cx="100.60" cy="483.60" r="1.7" fill="#fff" stroke="#22e622" stroke-width="0.8"/>
<path d="M108.70,480.80 V486.40 M106.40,480.80 H111.00 M106.40,486.40 H111.00" stroke="#22e622" stroke-width="0.7" fill="none"/>
<circle cx="108.70" cy="483.60" r="1.7" fill="#fff" stroke="#22e622" stroke-width="0.8"/>
<path d="M117.90,479.00 V484.60 M115.60,479.00 H120.20 M115.60,484.60 H120.20" stroke="#22e622" stroke-width="0.7" fill="none"/>
<circle cx="117.90" cy="481.80" r="1.7" fill="#fff" stroke="#22e622" stroke-width="0.8"/>
<path d="M122.90,479.90 V485.50 M120.60,479.90 H125.20 M120.60,485.50 H125.20" stroke="#22e622" stroke-width="0.7" fill="none"/>
<circle cx="122.90" cy="482.70" r="1.7" fill="#fff" stroke="#22e622" stroke-width="0.8"/>
<path d="M131.20,477.20 V482.80 M128.90,477.20 H133.50 M128.90,482.80 H133.50" stroke="#22e622" stroke-width="0.7" fill="none"/>
<circle cx="131.20" cy="480.00" r="1.7" fill="#fff" stroke="#22e622" stroke-width="0.8"/>
<path d="M145.60,474.50 V480.10 M143.30,474.50 H147.90 M143.30,480.10 H147.90" stroke="#22e622" stroke-width="0.7" fill="none"/>
<circle cx="145.60" cy="477.30" r="1.7" fill="#fff" stroke="#22e622" stroke-width="0.8"/>
<path d="M154.00,476.30 V481.90 M151.70,476.30 H156.30 M151.70,481.90 H156.30" stroke="#22e622" stroke-width="0.7" fill="none"/>
<circle cx="154.00" cy="479.10" r="1.7" fill="#fff" stroke="#22e622" stroke-width="0.8"/>
<path d="M162.60,472.70 V478.30 M160.30,472.70 H164.90 M160.30,478.30 H164.90" stroke="#22e622" stroke-width="0.7" fill="none"/>
<circle cx="162.60" cy="475.50" r="1.7" fill="#fff" stroke="#22e622" stroke-width="0.8"/>
<path d="M167.70,472.70 V478.30 M165.40,472.70 H170.00 M165.40,478.30 H170.00" stroke="#22e622" stroke-width="0.7" fill="none"/>
<circle cx="167.70" cy="475.50" r="1.7" fill="#fff" stroke="#22e622" stroke-width="0.8"/>
<path d="M175.80,471.00 V476.60 M173.50,471.00 H178.10 M173.50,476.60 H178.10" stroke="#22e622" stroke-width="0.7" fill="none"/>
<circle cx="175.80" cy="473.80" r="1.7" fill="#fff" stroke="#22e622" stroke-width="0.8"/>
<path d="M190.40,468.10 V473.70 M188.10,468.10 H192.70 M188.10,473.70 H192.70" stroke="#22e622" stroke-width="0.7" fill="none"/>
<circle cx="190.40" cy="470.90" r="1.7" fill="#fff" stroke="#22e622" stroke-width="0.8"/>
<path d="M198.40,461.80 V467.40 M196.10,461.80 H200.70 M196.10,467.40 H200.70" stroke="#22e622" stroke-width="0.7" fill="none"/>
<circle cx="198.40" cy="464.60" r="1.7" fill="#fff" stroke="#22e622" stroke-width="0.8"/>
<path d="M212.70,458.30 V463.90 M210.40,458.30 H215.00 M210.40,463.90 H215.00" stroke="#22e622" stroke-width="0.7" fill="none"/>
<circle cx="212.70" cy="461.10" r="1.7" fill="#fff" stroke="#22e622" stroke-width="0.8"/>
<path d="M220.70,458.30 V463.90 M218.40,458.30 H223.00 M218.40,463.90 H223.00" stroke="#22e622" stroke-width="0.7" fill="none"/>
<circle cx="220.70" cy="461.10" r="1.7" fill="#fff" stroke="#22e622" stroke-width="0.8"/>
<path d="M235.00,452.00 V457.60 M232.70,452.00 H237.30 M232.70,457.60 H237.30" stroke="#22e622" stroke-width="0.7" fill="none"/>
<circle cx="235.00" cy="454.80" r="1.7" fill="#fff" stroke="#22e622" stroke-width="0.8"/>
<path d="M243.00,459.20 V464.80 M240.70,459.20 H245.30 M240.70,464.80 H245.30" stroke="#22e622" stroke-width="0.7" fill="none"/>
<circle cx="243.00" cy="462.00" r="1.7" fill="#fff" stroke="#22e622" stroke-width="0.8"/>
<path d="M264.90,455.90 V461.50 M262.60,455.90 H267.20 M262.60,461.50 H267.20" stroke="#22e622" stroke-width="0.7" fill="none"/>
<circle cx="264.90" cy="458.70" r="1.7" fill="#fff" stroke="#22e622" stroke-width="0.8"/>
<path d="M287.80,461.60 V467.20 M285.50,461.60 H290.10 M285.50,467.20 H290.10" stroke="#22e622" stroke-width="0.7" fill="none"/>
<circle cx="287.80" cy="464.40" r="1.7" fill="#fff" stroke="#22e622" stroke-width="0.8"/>
<path d="M310.80,464.40 V470.00 M308.50,464.40 H313.10 M308.50,470.00 H313.10" stroke="#22e622" stroke-width="0.7" fill="none"/>
<circle cx="310.80" cy="467.20" r="1.7" fill="#fff" stroke="#22e622" stroke-width="0.8"/>
<path d="M77.90,592.30 L80.20,594.60 L77.90,596.90 L75.60,594.60 Z" fill="#fff" stroke="#22e622" stroke-width="0.8"/>
<path d="M86.30,592.30 L88.60,594.60 L86.30,596.90 L84.00,594.60 Z" fill="#fff" stroke="#22e622" stroke-width="0.8"/>
<path d="M100.60,592.10 L102.90,594.40 L100.60,596.70 L98.30,594.40 Z" fill="#fff" stroke="#22e622" stroke-width="0.8"/>
<path d="M108.70,592.00 L111.00,594.30 L108.70,596.60 L106.40,594.30 Z" fill="#fff" stroke="#22e622" stroke-width="0.8"/>
<path d="M117.90,591.90 L120.20,594.20 L117.90,596.50 L115.60,594.20 Z" fill="#fff" stroke="#22e622" stroke-width="0.8"/>
<path d="M122.90,591.80 L125.20,594.10 L122.90,596.40 L120.60,594.10 Z" fill="#fff" stroke="#22e622" stroke-width="0.8"/>
<path d="M131.20,591.70 L133.50,594.00 L131.20,596.30 L128.90,594.00 Z" fill="#fff" stroke="#22e622" stroke-width="0.8"/>
<path d="M145.40,591.70 L147.70,594.00 L145.40,596.30 L143.10,594.00 Z" fill="#fff" stroke="#22e622" stroke-width="0.8"/>
<path d="M153.80,591.40 L156.10,593.70 L153.80,596.00 L151.50,593.70 Z" fill="#fff" stroke="#22e622" stroke-width="0.8"/>
<path d="M163.00,590.90 L165.30,593.20 L163.00,595.50 L160.70,593.20 Z" fill="#fff" stroke="#22e622" stroke-width="0.8"/>
<path d="M168.30,590.90 L170.60,593.20 L168.30,595.50 L166.00,593.20 Z" fill="#fff" stroke="#22e622" stroke-width="0.8"/>
<path d="M176.00,590.50 L178.30,592.80 L176.00,595.10 L173.70,592.80 Z" fill="#fff" stroke="#22e622" stroke-width="0.8"/>
<path d="M189.00,588.70 L191.30,591.00 L189.00,593.30 L186.70,591.00 Z" fill="#fff" stroke="#22e622" stroke-width="0.8"/>
<path d="M198.50,587.90 L200.80,590.20 L198.50,592.50 L196.20,590.20 Z" fill="#fff" stroke="#22e622" stroke-width="0.8"/>
<path d="M212.60,586.30 L214.90,588.60 L212.60,590.90 L210.30,588.60 Z" fill="#fff" stroke="#22e622" stroke-width="0.8"/>
<path d="M221.00,584.80 L223.30,587.10 L221.00,589.40 L218.70,587.10 Z" fill="#fff" stroke="#22e622" stroke-width="0.8"/>
<path d="M235.10,579.50 L237.40,581.80 L235.10,584.10 L232.80,581.80 Z" fill="#fff" stroke="#22e622" stroke-width="0.8"/>
<path d="M244.00,582.50 L246.30,584.80 L244.00,587.10 L241.70,584.80 Z" fill="#fff" stroke="#22e622" stroke-width="0.8"/>
<path d="M264.90,580.00 L267.20,582.30 L264.90,584.60 L262.60,582.30 Z" fill="#fff" stroke="#22e622" stroke-width="0.8"/>
<path d="M287.80,580.20 L290.10,582.50 L287.80,584.80 L285.50,582.50 Z" fill="#fff" stroke="#22e622" stroke-width="0.8"/>
<path d="M310.80,580.20 L313.10,582.50 L310.80,584.80 L308.50,582.50 Z" fill="#fff" stroke="#22e622" stroke-width="0.8"/>
<path d="M77.90,592.00 L80.20,594.30 L77.90,596.60 L75.60,594.30 Z" fill="#fff" stroke="#2828ff" stroke-width="0.8"/>
<path d="M86.30,591.90 L88.60,594.20 L86.30,596.50 L84.00,594.20 Z" fill="#fff" stroke="#2828ff" stroke-width="0.8"/>
<path d="M100.60,591.70 L102.90,594.00 L100.60,596.30 L98.30,594.00 Z" fill="#fff" stroke="#2828ff" stroke-width="0.8"/>
<path d="M117.90,591.50 L120.20,593.80 L117.90,596.10 L115.60,593.80 Z" fill="#fff" stroke="#2828ff" stroke-width="0.8"/>
<path d="M122.90,591.30 L125.20,593.60 L122.90,595.90 L120.60,593.60 Z" fill="#fff" stroke="#2828ff" stroke-width="0.8"/>
<path d="M145.60,590.20 L147.90,592.50 L145.60,594.80 L143.30,592.50 Z" fill="#fff" stroke="#2828ff" stroke-width="0.8"/>
<path d="M153.80,588.70 L156.10,591.00 L153.80,593.30 L151.50,591.00 Z" fill="#fff" stroke="#2828ff" stroke-width="0.8"/>
<path d="M162.60,589.00 L164.90,591.30 L162.60,593.60 L160.30,591.30 Z" fill="#fff" stroke="#2828ff" stroke-width="0.8"/>
<path d="M167.70,588.50 L170.00,590.80 L167.70,593.10 L165.40,590.80 Z" fill="#fff" stroke="#2828ff" stroke-width="0.8"/>
<path d="M175.80,588.20 L178.10,590.50 L175.80,592.80 L173.50,590.50 Z" fill="#fff" stroke="#2828ff" stroke-width="0.8"/>
<path d="M198.40,587.90 L200.70,590.20 L198.40,592.50 L196.10,590.20 Z" fill="#fff" stroke="#2828ff" stroke-width="0.8"/>
<path d="M221.00,578.70 L223.30,581.00 L221.00,583.30 L218.70,581.00 Z" fill="#fff" stroke="#2828ff" stroke-width="0.8"/>
<path d="M235.10,582.50 L237.40,584.80 L235.10,587.10 L232.80,584.80 Z" fill="#fff" stroke="#2828ff" stroke-width="0.8"/>
<path d="M244.00,577.20 L246.30,579.50 L244.00,581.80 L241.70,579.50 Z" fill="#fff" stroke="#2828ff" stroke-width="0.8"/>
<path d="M249.40,578.70 L251.70,581.00 L249.40,583.30 L247.10,581.00 Z" fill="#fff" stroke="#2828ff" stroke-width="0.8"/>
<path d="M253.00,577.70 L255.30,580.00 L253.00,582.30 L250.70,580.00 Z" fill="#fff" stroke="#2828ff" stroke-width="0.8"/>
<path d="M258.00,577.70 L260.30,580.00 L258.00,582.30 L255.70,580.00 Z" fill="#fff" stroke="#2828ff" stroke-width="0.8"/>
<path d="M262.00,576.70 L264.30,579.00 L262.00,581.30 L259.70,579.00 Z" fill="#fff" stroke="#2828ff" stroke-width="0.8"/>
<path d="M277.50,584.40 L279.80,586.70 L277.50,589.00 L275.20,586.70 Z" fill="#fff" stroke="#2828ff" stroke-width="0.8"/>
<path d="M287.80,579.80 L290.10,582.10 L287.80,584.40 L285.50,582.10 Z" fill="#fff" stroke="#2828ff" stroke-width="0.8"/>
<path d="M310.80,580.30 L313.10,582.60 L310.80,584.90 L308.50,582.60 Z" fill="#fff" stroke="#2828ff" stroke-width="0.8"/>
<path d="M77.90,591.70 L80.20,594.00 L77.90,596.30 L75.60,594.00 Z" fill="#fff" stroke="#ff2424" stroke-width="0.8"/>
<path d="M86.30,591.70 L88.60,594.00 L86.30,596.30 L84.00,594.00 Z" fill="#fff" stroke="#ff2424" stroke-width="0.8"/>
<path d="M100.60,591.50 L102.90,593.80 L100.60,596.10 L98.30,593.80 Z" fill="#fff" stroke="#ff2424" stroke-width="0.8"/>
<path d="M108.70,591.30 L111.00,593.60 L108.70,595.90 L106.40,593.60 Z" fill="#fff" stroke="#ff2424" stroke-width="0.8"/>
<path d="M117.90,591.00 L120.20,593.30 L117.90,595.60 L115.60,593.30 Z" fill="#fff" stroke="#ff2424" stroke-width="0.8"/>
<path d="M122.90,590.70 L125.20,593.00 L122.90,595.30 L120.60,593.00 Z" fill="#fff" stroke="#ff2424" stroke-width="0.8"/>
<path d="M131.20,590.30 L133.50,592.60 L131.20,594.90 L128.90,592.60 Z" fill="#fff" stroke="#ff2424" stroke-width="0.8"/>
<path d="M145.60,588.90 L147.90,591.20 L145.60,593.50 L143.30,591.20 Z" fill="#fff" stroke="#ff2424" stroke-width="0.8"/>
<path d="M154.00,587.70 L156.30,590.00 L154.00,592.30 L151.70,590.00 Z" fill="#fff" stroke="#ff2424" stroke-width="0.8"/>
<path d="M162.60,586.20 L164.90,588.50 L162.60,590.80 L160.30,588.50 Z" fill="#fff" stroke="#ff2424" stroke-width="0.8"/>
<path d="M175.80,581.20 L178.10,583.50 L175.80,585.80 L173.50,583.50 Z" fill="#fff" stroke="#ff2424" stroke-width="0.8"/>
<path d="M190.50,583.30 L192.80,585.60 L190.50,587.90 L188.20,585.60 Z" fill="#fff" stroke="#ff2424" stroke-width="0.8"/>
<path d="M198.40,579.50 L200.70,581.80 L198.40,584.10 L196.10,581.80 Z" fill="#fff" stroke="#ff2424" stroke-width="0.8"/>
<path d="M212.60,562.60 L214.90,564.90 L212.60,567.20 L210.30,564.90 Z" fill="#fff" stroke="#ff2424" stroke-width="0.8"/>
<path d="M235.10,564.10 L237.40,566.40 L235.10,568.70 L232.80,566.40 Z" fill="#fff" stroke="#ff2424" stroke-width="0.8"/>
<path d="M264.90,573.80 L267.20,576.10 L264.90,578.40 L262.60,576.10 Z" fill="#fff" stroke="#ff2424" stroke-width="0.8"/>
<path d="M287.80,578.20 L290.10,580.50 L287.80,582.80 L285.50,580.50 Z" fill="#fff" stroke="#ff2424" stroke-width="0.8"/>
<path d="M310.80,579.20 L313.10,581.50 L310.80,583.80 L308.50,581.50 Z" fill="#fff" stroke="#ff2424" stroke-width="0.8"/>
<path d="M63.50,592.00 L65.80,594.30 L63.50,596.60 L61.20,594.30 Z" fill="#fff" stroke="#262626" stroke-width="0.8"/>
<path d="M77.90,591.70 L80.20,594.00 L77.90,596.30 L75.60,594.00 Z" fill="#fff" stroke="#262626" stroke-width="0.8"/>
<path d="M86.30,591.70 L88.60,594.00 L86.30,596.30 L84.00,594.00 Z" fill="#fff" stroke="#262626" stroke-width="0.8"/>
<path d="M100.20,591.50 L102.50,593.80 L100.20,596.10 L97.90,593.80 Z" fill="#fff" stroke="#262626" stroke-width="0.8"/>
<path d="M108.50,591.20 L110.80,593.50 L108.50,595.80 L106.20,593.50 Z" fill="#fff" stroke="#262626" stroke-width="0.8"/>
<path d="M117.40,591.00 L119.70,593.30 L117.40,595.60 L115.10,593.30 Z" fill="#fff" stroke="#262626" stroke-width="0.8"/>
<path d="M122.20,591.00 L124.50,593.30 L122.20,595.60 L119.90,593.30 Z" fill="#fff" stroke="#262626" stroke-width="0.8"/>
<path d="M131.00,590.50 L133.30,592.80 L131.00,595.10 L128.70,592.80 Z" fill="#fff" stroke="#262626" stroke-width="0.8"/>
<path d="M145.40,588.60 L147.70,590.90 L145.40,593.20 L143.10,590.90 Z" fill="#fff" stroke="#262626" stroke-width="0.8"/>
<path d="M153.80,587.40 L156.10,589.70 L153.80,592.00 L151.50,589.70 Z" fill="#fff" stroke="#262626" stroke-width="0.8"/>
<path d="M163.00,587.90 L165.30,590.20 L163.00,592.50 L160.70,590.20 Z" fill="#fff" stroke="#262626" stroke-width="0.8"/>
<path d="M168.30,583.70 L170.60,586.00 L168.30,588.30 L166.00,586.00 Z" fill="#fff" stroke="#262626" stroke-width="0.8"/>
<path d="M176.00,577.70 L178.30,580.00 L176.00,582.30 L173.70,580.00 Z" fill="#fff" stroke="#262626" stroke-width="0.8"/>
<path d="M184.90,542.20 L187.20,544.50 L184.90,546.80 L182.60,544.50 Z" fill="#fff" stroke="#262626" stroke-width="0.8"/>
<path d="M190.60,542.20 L192.90,544.50 L190.60,546.80 L188.30,544.50 Z" fill="#fff" stroke="#262626" stroke-width="0.8"/>
<path d="M194.40,574.10 L196.70,576.40 L194.40,578.70 L192.10,576.40 Z" fill="#fff" stroke="#262626" stroke-width="0.8"/>
<path d="M203.40,569.50 L205.70,571.80 L203.40,574.10 L201.10,571.80 Z" fill="#fff" stroke="#262626" stroke-width="0.8"/>
<path d="M207.30,571.00 L209.60,573.30 L207.30,575.60 L205.00,573.30 Z" fill="#fff" stroke="#262626" stroke-width="0.8"/>
<path d="M212.60,576.40 L214.90,578.70 L212.60,581.00 L210.30,578.70 Z" fill="#fff" stroke="#262626" stroke-width="0.8"/>
<path d="M217.20,575.60 L219.50,577.90 L217.20,580.20 L214.90,577.90 Z" fill="#fff" stroke="#262626" stroke-width="0.8"/>
<path d="M221.00,574.10 L223.30,576.40 L221.00,578.70 L218.70,576.40 Z" fill="#fff" stroke="#262626" stroke-width="0.8"/>
<path d="M225.60,575.60 L227.90,577.90 L225.60,580.20 L223.30,577.90 Z" fill="#fff" stroke="#262626" stroke-width="0.8"/>
<path d="M231.00,574.90 L233.30,577.20 L231.00,579.50 L228.70,577.20 Z" fill="#fff" stroke="#262626" stroke-width="0.8"/>
<path d="M235.10,574.10 L237.40,576.40 L235.10,578.70 L232.80,576.40 Z" fill="#fff" stroke="#262626" stroke-width="0.8"/>
<path d="M239.10,567.20 L241.40,569.50 L239.10,571.80 L236.80,569.50 Z" fill="#fff" stroke="#262626" stroke-width="0.8"/>
<path d="M244.00,575.60 L246.30,577.90 L244.00,580.20 L241.70,577.90 Z" fill="#fff" stroke="#262626" stroke-width="0.8"/>
<path d="M264.90,577.90 L267.20,580.20 L264.90,582.50 L262.60,580.20 Z" fill="#fff" stroke="#262626" stroke-width="0.8"/>
<path d="M287.80,579.80 L290.10,582.10 L287.80,584.40 L285.50,582.10 Z" fill="#fff" stroke="#262626" stroke-width="0.8"/>
<path d="M310.80,579.80 L313.10,582.10 L310.80,584.40 L308.50,582.10 Z" fill="#fff" stroke="#262626" stroke-width="0.8"/>
<path d="M333.50,580.20 L335.80,582.50 L333.50,584.80 L331.20,582.50 Z" fill="#fff" stroke="#262626" stroke-width="0.8"/>
<path d="M176.00,576.50 V583.50 M173.50,576.50 H178.50 M173.50,583.50 H178.50" stroke="#262626" stroke-width="0.7" fill="none"/>
<path d="M176.00,577.70 L178.30,580.00 L176.00,582.30 L173.70,580.00 Z" fill="#fff" stroke="#262626" stroke-width="0.8"/>
<path d="M212.60,557.90 V571.90 M210.10,557.90 H215.10 M210.10,571.90 H215.10" stroke="#ff2424" stroke-width="0.7" fill="none"/>
<path d="M212.60,562.60 L214.90,564.90 L212.60,567.20 L210.30,564.90 Z" fill="#fff" stroke="#ff2424" stroke-width="0.8"/>
<path d="M235.10,560.40 V572.40 M232.60,560.40 H237.60 M232.60,572.40 H237.60" stroke="#ff2424" stroke-width="0.7" fill="none"/>
<path d="M235.10,564.10 L237.40,566.40 L235.10,568.70 L232.80,566.40 Z" fill="#fff" stroke="#ff2424" stroke-width="0.8"/>
<path d="M239.10,561.50 V577.50 M236.60,561.50 H241.60 M236.60,577.50 H241.60" stroke="#262626" stroke-width="0.7" fill="none"/>
<path d="M239.10,567.20 L241.40,569.50 L239.10,571.80 L236.80,569.50 Z" fill="#fff" stroke="#262626" stroke-width="0.8"/>
<path d="M221.00,571.40 V581.40 M218.50,571.40 H223.50 M218.50,581.40 H223.50" stroke="#262626" stroke-width="0.7" fill="none"/>
<path d="M221.00,574.10 L223.30,576.40 L221.00,578.70 L218.70,576.40 Z" fill="#fff" stroke="#262626" stroke-width="0.8"/>
<path d="M198.40,577.80 V585.80 M195.90,577.80 H200.90 M195.90,585.80 H200.90" stroke="#ff2424" stroke-width="0.7" fill="none"/>
<path d="M198.40,579.50 L200.70,581.80 L198.40,584.10 L196.10,581.80 Z" fill="#fff" stroke="#ff2424" stroke-width="0.8"/>
<path d="M264.90,573.10 V579.10 M262.40,573.10 H267.40 M262.40,579.10 H267.40" stroke="#ff2424" stroke-width="0.7" fill="none"/>
<path d="M264.90,573.80 L267.20,576.10 L264.90,578.40 L262.60,576.10 Z" fill="#fff" stroke="#ff2424" stroke-width="0.8"/>
<path d="M189.10,488.00 L191.10,490.00 L189.10,492.00 L187.10,490.00 Z" fill="#fff" stroke="#262626" stroke-width="0.9"/>
<text x="198.00" y="491.60" font-size="8.4" fill="#222"><tspan font-style="italic">β</tspan><tspan font-size="5.35" dy="3">T,CO2,10MPa</tspan></text>
<circle cx="264.60" cy="490.00" r="1.9" fill="#fff" stroke="#262626" stroke-width="0.9"/>
<text x="273.50" y="491.60" font-size="8.4" fill="#222"><tspan font-style="italic">α</tspan><tspan font-size="5.35" dy="3">CO2,10MPa</tspan></text>
<path d="M189.10,501.00 L191.10,503.00 L189.10,505.00 L187.10,503.00 Z" fill="#fff" stroke="#ff2424" stroke-width="0.9"/>
<text x="198.00" y="504.60" font-size="8.4" fill="#222"><tspan font-style="italic">β</tspan><tspan font-size="5.35" dy="3">T,CO2+C6H6,10MPa</tspan></text>
<circle cx="264.60" cy="503.00" r="1.9" fill="#fff" stroke="#ff2424" stroke-width="0.9"/>
<text x="273.50" y="504.60" font-size="8.4" fill="#222"><tspan font-style="italic">α</tspan><tspan font-size="5.35" dy="3">CO2+C6H6,10MPa</tspan></text>
<path d="M189.10,513.80 L191.10,515.80 L189.10,517.80 L187.10,515.80 Z" fill="#fff" stroke="#2828ff" stroke-width="0.9"/>
<text x="198.00" y="517.40" font-size="8.4" fill="#222"><tspan font-style="italic">β</tspan><tspan font-size="5.35" dy="3">T,CO2,12MPa</tspan></text>
<circle cx="264.60" cy="515.80" r="1.9" fill="#fff" stroke="#2828ff" stroke-width="0.9"/>
<text x="273.50" y="517.40" font-size="8.4" fill="#222"><tspan font-style="italic">α</tspan><tspan font-size="5.35" dy="3">CO2,12MPa</tspan></text>
<path d="M189.10,526.80 L191.10,528.80 L189.10,530.80 L187.10,528.80 Z" fill="#fff" stroke="#22e622" stroke-width="0.9"/>
<text x="198.00" y="530.40" font-size="8.4" fill="#222"><tspan font-style="italic">β</tspan><tspan font-size="5.35" dy="3">T,CO2+C6H6,12MPa</tspan></text>
<circle cx="264.60" cy="528.80" r="1.9" fill="#fff" stroke="#22e622" stroke-width="0.9"/>
<text x="273.50" y="530.40" font-size="8.4" fill="#222"><tspan font-style="italic">α</tspan><tspan font-size="5.35" dy="3">CO2+C6H6,12MPa</tspan></text>
</svg></body></html>
